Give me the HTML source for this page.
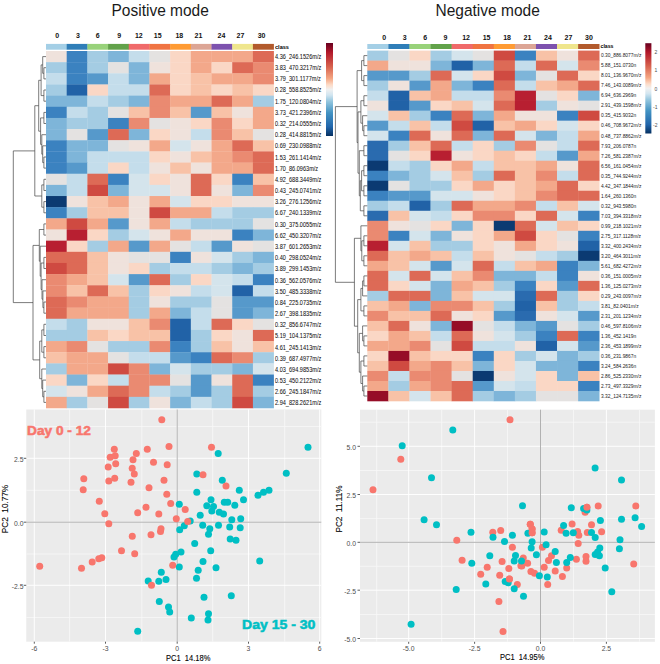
<!DOCTYPE html>
<html><head><meta charset="utf-8">
<style>
html,body{margin:0;padding:0;background:#fff;}
body{width:660px;height:664px;position:relative;overflow:hidden;font-family:"Liberation Sans",sans-serif;}
svg{position:absolute;left:0;top:0;}
.t{position:absolute;white-space:nowrap;line-height:1;}
.title{position:absolute;font-size:15.5px;color:#1a1a1a;top:1.9px;transform:scaleY(1.1);transform-origin:0 0;white-space:nowrap;line-height:1;}
.rl{position:absolute;left:274.9px;font-size:6.9px;line-height:1;transform:translateY(-50%) scaleX(0.81);transform-origin:0 50%;white-space:nowrap;color:#111;-webkit-text-stroke:0.05px #111;}
.rr{position:absolute;left:600.8px;font-size:5.8px;line-height:1;transform:translateY(-50%) scaleX(0.84);transform-origin:0 50%;white-space:nowrap;color:#222;}
.cl,.cr{position:absolute;font-size:7px;font-weight:bold;line-height:1;transform:translate(-50%,-50%);top:35.2px;color:#111;}
.cr{top:36.5px;}
.tick{position:absolute;font-size:6.8px;color:#4D4D4D;line-height:1;white-space:nowrap;}
.ax{position:absolute;font-size:8.2px;color:#000;-webkit-text-stroke:0.1px #000;line-height:1;white-space:nowrap;}
.day{position:absolute;font-weight:bold;font-size:12px;line-height:1;white-space:nowrap;transform-origin:0 0;-webkit-text-stroke:0.5px currentColor;}
</style></head><body>
<svg width="660" height="664" viewBox="0 0 660 664">
<defs>
<linearGradient id="cb" x1="0" y1="0" x2="0" y2="1">
<stop offset="0" stop-color="#67001F"/>
<stop offset="0.1" stop-color="#B2182B"/>
<stop offset="0.25" stop-color="#D6604D"/>
<stop offset="0.38" stop-color="#F4A582"/>
<stop offset="0.45" stop-color="#FDDBC7"/>
<stop offset="0.5" stop-color="#F0F0F0"/>
<stop offset="0.56" stop-color="#D1E5F0"/>
<stop offset="0.63" stop-color="#92C5DE"/>
<stop offset="0.75" stop-color="#4393C3"/>
<stop offset="0.9" stop-color="#2166AC"/>
<stop offset="1" stop-color="#053061"/>
</linearGradient>
</defs>
<rect x="46.00" y="43.9" width="20.99" height="5.800000000000004" fill="#A4CFE6"/>
<rect x="66.69" y="43.9" width="20.99" height="5.800000000000004" fill="#2F7EB8"/>
<rect x="87.38" y="43.9" width="20.99" height="5.800000000000004" fill="#98D27A"/>
<rect x="108.07" y="43.9" width="20.99" height="5.800000000000004" fill="#62A24A"/>
<rect x="128.76" y="43.9" width="20.99" height="5.800000000000004" fill="#F06A6A"/>
<rect x="149.45" y="43.9" width="20.99" height="5.800000000000004" fill="#F07442"/>
<rect x="170.15" y="43.9" width="20.99" height="5.800000000000004" fill="#FF9B33"/>
<rect x="190.84" y="43.9" width="20.99" height="5.800000000000004" fill="#DCA595"/>
<rect x="211.53" y="43.9" width="20.99" height="5.800000000000004" fill="#7D52AE"/>
<rect x="232.22" y="43.9" width="20.99" height="5.800000000000004" fill="#EFE68D"/>
<rect x="252.91" y="43.9" width="20.99" height="5.800000000000004" fill="#B25A2C"/>
<rect x="46.00" y="51.00" width="20.99" height="11.46" fill="#EFE2DC"/>
<rect x="66.69" y="51.00" width="20.99" height="11.46" fill="#3B82C0"/>
<rect x="87.38" y="51.00" width="20.99" height="11.46" fill="#A4CCE3"/>
<rect x="108.07" y="51.00" width="20.99" height="11.46" fill="#7EB5D9"/>
<rect x="128.76" y="51.00" width="20.99" height="11.46" fill="#C4DDEB"/>
<rect x="149.45" y="51.00" width="20.99" height="11.46" fill="#E4E2E1"/>
<rect x="170.15" y="51.00" width="20.99" height="11.46" fill="#FAD7C5"/>
<rect x="190.84" y="51.00" width="20.99" height="11.46" fill="#F3A88A"/>
<rect x="211.53" y="51.00" width="20.99" height="11.46" fill="#F3A88A"/>
<rect x="232.22" y="51.00" width="20.99" height="11.46" fill="#F3A88A"/>
<rect x="252.91" y="51.00" width="20.99" height="11.46" fill="#DD6A56"/>
<rect x="46.00" y="62.16" width="20.99" height="11.46" fill="#A4CCE3"/>
<rect x="66.69" y="62.16" width="20.99" height="11.46" fill="#3B82C0"/>
<rect x="87.38" y="62.16" width="20.99" height="11.46" fill="#A4CCE3"/>
<rect x="108.07" y="62.16" width="20.99" height="11.46" fill="#E4E2E1"/>
<rect x="128.76" y="62.16" width="20.99" height="11.46" fill="#7EB5D9"/>
<rect x="149.45" y="62.16" width="20.99" height="11.46" fill="#EFE2DC"/>
<rect x="170.15" y="62.16" width="20.99" height="11.46" fill="#FAD7C5"/>
<rect x="190.84" y="62.16" width="20.99" height="11.46" fill="#F3A88A"/>
<rect x="211.53" y="62.16" width="20.99" height="11.46" fill="#FAD7C5"/>
<rect x="232.22" y="62.16" width="20.99" height="11.46" fill="#DD6A56"/>
<rect x="252.91" y="62.16" width="20.99" height="11.46" fill="#EA8A71"/>
<rect x="46.00" y="73.31" width="20.99" height="11.46" fill="#C4DDEB"/>
<rect x="66.69" y="73.31" width="20.99" height="11.46" fill="#3B82C0"/>
<rect x="87.38" y="73.31" width="20.99" height="11.46" fill="#5699CB"/>
<rect x="108.07" y="73.31" width="20.99" height="11.46" fill="#C4DDEB"/>
<rect x="128.76" y="73.31" width="20.99" height="11.46" fill="#7EB5D9"/>
<rect x="149.45" y="73.31" width="20.99" height="11.46" fill="#F3A88A"/>
<rect x="170.15" y="73.31" width="20.99" height="11.46" fill="#FAD7C5"/>
<rect x="190.84" y="73.31" width="20.99" height="11.46" fill="#F8C2A7"/>
<rect x="211.53" y="73.31" width="20.99" height="11.46" fill="#F3A88A"/>
<rect x="232.22" y="73.31" width="20.99" height="11.46" fill="#F3A88A"/>
<rect x="252.91" y="73.31" width="20.99" height="11.46" fill="#EA8A71"/>
<rect x="46.00" y="84.47" width="20.99" height="11.46" fill="#A4CCE3"/>
<rect x="66.69" y="84.47" width="20.99" height="11.46" fill="#2162A7"/>
<rect x="87.38" y="84.47" width="20.99" height="11.46" fill="#FAD7C5"/>
<rect x="108.07" y="84.47" width="20.99" height="11.46" fill="#C4DDEB"/>
<rect x="128.76" y="84.47" width="20.99" height="11.46" fill="#C4DDEB"/>
<rect x="149.45" y="84.47" width="20.99" height="11.46" fill="#DD6A56"/>
<rect x="170.15" y="84.47" width="20.99" height="11.46" fill="#FAD7C5"/>
<rect x="190.84" y="84.47" width="20.99" height="11.46" fill="#F8C2A7"/>
<rect x="211.53" y="84.47" width="20.99" height="11.46" fill="#FAD7C5"/>
<rect x="232.22" y="84.47" width="20.99" height="11.46" fill="#F8C2A7"/>
<rect x="252.91" y="84.47" width="20.99" height="11.46" fill="#FAD7C5"/>
<rect x="46.00" y="95.62" width="20.99" height="11.46" fill="#7EB5D9"/>
<rect x="66.69" y="95.62" width="20.99" height="11.46" fill="#7EB5D9"/>
<rect x="87.38" y="95.62" width="20.99" height="11.46" fill="#C4DDEB"/>
<rect x="108.07" y="95.62" width="20.99" height="11.46" fill="#A4CCE3"/>
<rect x="128.76" y="95.62" width="20.99" height="11.46" fill="#7EB5D9"/>
<rect x="149.45" y="95.62" width="20.99" height="11.46" fill="#EA8A71"/>
<rect x="170.15" y="95.62" width="20.99" height="11.46" fill="#F3A88A"/>
<rect x="190.84" y="95.62" width="20.99" height="11.46" fill="#F3A88A"/>
<rect x="211.53" y="95.62" width="20.99" height="11.46" fill="#DD6A56"/>
<rect x="232.22" y="95.62" width="20.99" height="11.46" fill="#F3A88A"/>
<rect x="252.91" y="95.62" width="20.99" height="11.46" fill="#A4CCE3"/>
<rect x="46.00" y="106.78" width="20.99" height="11.46" fill="#3B82C0"/>
<rect x="66.69" y="106.78" width="20.99" height="11.46" fill="#C4DDEB"/>
<rect x="87.38" y="106.78" width="20.99" height="11.46" fill="#A4CCE3"/>
<rect x="108.07" y="106.78" width="20.99" height="11.46" fill="#E4E2E1"/>
<rect x="128.76" y="106.78" width="20.99" height="11.46" fill="#F8C2A7"/>
<rect x="149.45" y="106.78" width="20.99" height="11.46" fill="#EA8A71"/>
<rect x="170.15" y="106.78" width="20.99" height="11.46" fill="#F8C2A7"/>
<rect x="190.84" y="106.78" width="20.99" height="11.46" fill="#5699CB"/>
<rect x="211.53" y="106.78" width="20.99" height="11.46" fill="#F8C2A7"/>
<rect x="232.22" y="106.78" width="20.99" height="11.46" fill="#EFE2DC"/>
<rect x="252.91" y="106.78" width="20.99" height="11.46" fill="#F3A88A"/>
<rect x="46.00" y="117.94" width="20.99" height="11.46" fill="#7EB5D9"/>
<rect x="66.69" y="117.94" width="20.99" height="11.46" fill="#A4CCE3"/>
<rect x="87.38" y="117.94" width="20.99" height="11.46" fill="#A4CCE3"/>
<rect x="108.07" y="117.94" width="20.99" height="11.46" fill="#3B82C0"/>
<rect x="128.76" y="117.94" width="20.99" height="11.46" fill="#EA8A71"/>
<rect x="149.45" y="117.94" width="20.99" height="11.46" fill="#E4E2E1"/>
<rect x="170.15" y="117.94" width="20.99" height="11.46" fill="#EFE2DC"/>
<rect x="190.84" y="117.94" width="20.99" height="11.46" fill="#FAD7C5"/>
<rect x="211.53" y="117.94" width="20.99" height="11.46" fill="#EA8A71"/>
<rect x="232.22" y="117.94" width="20.99" height="11.46" fill="#FAD7C5"/>
<rect x="252.91" y="117.94" width="20.99" height="11.46" fill="#F3A88A"/>
<rect x="46.00" y="129.09" width="20.99" height="11.46" fill="#7EB5D9"/>
<rect x="66.69" y="129.09" width="20.99" height="11.46" fill="#E4E2E1"/>
<rect x="87.38" y="129.09" width="20.99" height="11.46" fill="#5699CB"/>
<rect x="108.07" y="129.09" width="20.99" height="11.46" fill="#DD6A56"/>
<rect x="128.76" y="129.09" width="20.99" height="11.46" fill="#7EB5D9"/>
<rect x="149.45" y="129.09" width="20.99" height="11.46" fill="#FAD7C5"/>
<rect x="170.15" y="129.09" width="20.99" height="11.46" fill="#EFE2DC"/>
<rect x="190.84" y="129.09" width="20.99" height="11.46" fill="#C4DDEB"/>
<rect x="211.53" y="129.09" width="20.99" height="11.46" fill="#EA8A71"/>
<rect x="232.22" y="129.09" width="20.99" height="11.46" fill="#F8C2A7"/>
<rect x="252.91" y="129.09" width="20.99" height="11.46" fill="#E4E2E1"/>
<rect x="46.00" y="140.25" width="20.99" height="11.46" fill="#3B82C0"/>
<rect x="66.69" y="140.25" width="20.99" height="11.46" fill="#7EB5D9"/>
<rect x="87.38" y="140.25" width="20.99" height="11.46" fill="#7EB5D9"/>
<rect x="108.07" y="140.25" width="20.99" height="11.46" fill="#E4E2E1"/>
<rect x="128.76" y="140.25" width="20.99" height="11.46" fill="#EFE2DC"/>
<rect x="149.45" y="140.25" width="20.99" height="11.46" fill="#F3A88A"/>
<rect x="170.15" y="140.25" width="20.99" height="11.46" fill="#D4E4EC"/>
<rect x="190.84" y="140.25" width="20.99" height="11.46" fill="#EFE2DC"/>
<rect x="211.53" y="140.25" width="20.99" height="11.46" fill="#F3A88A"/>
<rect x="232.22" y="140.25" width="20.99" height="11.46" fill="#DD6A56"/>
<rect x="252.91" y="140.25" width="20.99" height="11.46" fill="#F8C2A7"/>
<rect x="46.00" y="151.41" width="20.99" height="11.46" fill="#3B82C0"/>
<rect x="66.69" y="151.41" width="20.99" height="11.46" fill="#7EB5D9"/>
<rect x="87.38" y="151.41" width="20.99" height="11.46" fill="#C4DDEB"/>
<rect x="108.07" y="151.41" width="20.99" height="11.46" fill="#C4DDEB"/>
<rect x="128.76" y="151.41" width="20.99" height="11.46" fill="#C4DDEB"/>
<rect x="149.45" y="151.41" width="20.99" height="11.46" fill="#FAD7C5"/>
<rect x="170.15" y="151.41" width="20.99" height="11.46" fill="#EFE2DC"/>
<rect x="190.84" y="151.41" width="20.99" height="11.46" fill="#F8C2A7"/>
<rect x="211.53" y="151.41" width="20.99" height="11.46" fill="#F3A88A"/>
<rect x="232.22" y="151.41" width="20.99" height="11.46" fill="#EA8A71"/>
<rect x="252.91" y="151.41" width="20.99" height="11.46" fill="#DD6A56"/>
<rect x="46.00" y="162.56" width="20.99" height="11.46" fill="#3B82C0"/>
<rect x="66.69" y="162.56" width="20.99" height="11.46" fill="#5699CB"/>
<rect x="87.38" y="162.56" width="20.99" height="11.46" fill="#C4DDEB"/>
<rect x="108.07" y="162.56" width="20.99" height="11.46" fill="#FAD7C5"/>
<rect x="128.76" y="162.56" width="20.99" height="11.46" fill="#C4DDEB"/>
<rect x="149.45" y="162.56" width="20.99" height="11.46" fill="#EFE2DC"/>
<rect x="170.15" y="162.56" width="20.99" height="11.46" fill="#F8C2A7"/>
<rect x="190.84" y="162.56" width="20.99" height="11.46" fill="#EFE2DC"/>
<rect x="211.53" y="162.56" width="20.99" height="11.46" fill="#F3A88A"/>
<rect x="232.22" y="162.56" width="20.99" height="11.46" fill="#F3A88A"/>
<rect x="252.91" y="162.56" width="20.99" height="11.46" fill="#DD6A56"/>
<rect x="46.00" y="173.72" width="20.99" height="11.46" fill="#E4E2E1"/>
<rect x="66.69" y="173.72" width="20.99" height="11.46" fill="#C4DDEB"/>
<rect x="87.38" y="173.72" width="20.99" height="11.46" fill="#DD6A56"/>
<rect x="108.07" y="173.72" width="20.99" height="11.46" fill="#3B82C0"/>
<rect x="128.76" y="173.72" width="20.99" height="11.46" fill="#D4E4EC"/>
<rect x="149.45" y="173.72" width="20.99" height="11.46" fill="#FAD7C5"/>
<rect x="170.15" y="173.72" width="20.99" height="11.46" fill="#EFE2DC"/>
<rect x="190.84" y="173.72" width="20.99" height="11.46" fill="#DD6A56"/>
<rect x="211.53" y="173.72" width="20.99" height="11.46" fill="#FAD7C5"/>
<rect x="232.22" y="173.72" width="20.99" height="11.46" fill="#3B82C0"/>
<rect x="252.91" y="173.72" width="20.99" height="11.46" fill="#F8C2A7"/>
<rect x="46.00" y="184.88" width="20.99" height="11.46" fill="#7EB5D9"/>
<rect x="66.69" y="184.88" width="20.99" height="11.46" fill="#C4DDEB"/>
<rect x="87.38" y="184.88" width="20.99" height="11.46" fill="#CF4A41"/>
<rect x="108.07" y="184.88" width="20.99" height="11.46" fill="#7EB5D9"/>
<rect x="128.76" y="184.88" width="20.99" height="11.46" fill="#D4E4EC"/>
<rect x="149.45" y="184.88" width="20.99" height="11.46" fill="#D4E4EC"/>
<rect x="170.15" y="184.88" width="20.99" height="11.46" fill="#EFE2DC"/>
<rect x="190.84" y="184.88" width="20.99" height="11.46" fill="#DD6A56"/>
<rect x="211.53" y="184.88" width="20.99" height="11.46" fill="#EFE2DC"/>
<rect x="232.22" y="184.88" width="20.99" height="11.46" fill="#7EB5D9"/>
<rect x="252.91" y="184.88" width="20.99" height="11.46" fill="#EA8A71"/>
<rect x="46.00" y="196.03" width="20.99" height="11.46" fill="#0B3A72"/>
<rect x="66.69" y="196.03" width="20.99" height="11.46" fill="#EFE2DC"/>
<rect x="87.38" y="196.03" width="20.99" height="11.46" fill="#F8C2A7"/>
<rect x="108.07" y="196.03" width="20.99" height="11.46" fill="#F3A88A"/>
<rect x="128.76" y="196.03" width="20.99" height="11.46" fill="#EFE2DC"/>
<rect x="149.45" y="196.03" width="20.99" height="11.46" fill="#F3A88A"/>
<rect x="170.15" y="196.03" width="20.99" height="11.46" fill="#D4E4EC"/>
<rect x="190.84" y="196.03" width="20.99" height="11.46" fill="#FAD7C5"/>
<rect x="211.53" y="196.03" width="20.99" height="11.46" fill="#FAD7C5"/>
<rect x="232.22" y="196.03" width="20.99" height="11.46" fill="#EFE2DC"/>
<rect x="252.91" y="196.03" width="20.99" height="11.46" fill="#EFE2DC"/>
<rect x="46.00" y="207.19" width="20.99" height="11.46" fill="#3B82C0"/>
<rect x="66.69" y="207.19" width="20.99" height="11.46" fill="#A4CCE3"/>
<rect x="87.38" y="207.19" width="20.99" height="11.46" fill="#F8C2A7"/>
<rect x="108.07" y="207.19" width="20.99" height="11.46" fill="#F8C2A7"/>
<rect x="128.76" y="207.19" width="20.99" height="11.46" fill="#EFE2DC"/>
<rect x="149.45" y="207.19" width="20.99" height="11.46" fill="#CF4A41"/>
<rect x="170.15" y="207.19" width="20.99" height="11.46" fill="#F3A88A"/>
<rect x="190.84" y="207.19" width="20.99" height="11.46" fill="#F3A88A"/>
<rect x="211.53" y="207.19" width="20.99" height="11.46" fill="#C4DDEB"/>
<rect x="232.22" y="207.19" width="20.99" height="11.46" fill="#A4CCE3"/>
<rect x="252.91" y="207.19" width="20.99" height="11.46" fill="#A4CCE3"/>
<rect x="46.00" y="218.34" width="20.99" height="11.46" fill="#F3A88A"/>
<rect x="66.69" y="218.34" width="20.99" height="11.46" fill="#CF4A41"/>
<rect x="87.38" y="218.34" width="20.99" height="11.46" fill="#F3A88A"/>
<rect x="108.07" y="218.34" width="20.99" height="11.46" fill="#5699CB"/>
<rect x="128.76" y="218.34" width="20.99" height="11.46" fill="#EFE2DC"/>
<rect x="149.45" y="218.34" width="20.99" height="11.46" fill="#F3A88A"/>
<rect x="170.15" y="218.34" width="20.99" height="11.46" fill="#C4DDEB"/>
<rect x="190.84" y="218.34" width="20.99" height="11.46" fill="#A4CCE3"/>
<rect x="211.53" y="218.34" width="20.99" height="11.46" fill="#A4CCE3"/>
<rect x="232.22" y="218.34" width="20.99" height="11.46" fill="#A4CCE3"/>
<rect x="252.91" y="218.34" width="20.99" height="11.46" fill="#E4E2E1"/>
<rect x="46.00" y="229.50" width="20.99" height="11.46" fill="#EFE2DC"/>
<rect x="66.69" y="229.50" width="20.99" height="11.46" fill="#B81F31"/>
<rect x="87.38" y="229.50" width="20.99" height="11.46" fill="#FAD7C5"/>
<rect x="108.07" y="229.50" width="20.99" height="11.46" fill="#A4CCE3"/>
<rect x="128.76" y="229.50" width="20.99" height="11.46" fill="#D4E4EC"/>
<rect x="149.45" y="229.50" width="20.99" height="11.46" fill="#EFE2DC"/>
<rect x="170.15" y="229.50" width="20.99" height="11.46" fill="#F3A88A"/>
<rect x="190.84" y="229.50" width="20.99" height="11.46" fill="#EFE2DC"/>
<rect x="211.53" y="229.50" width="20.99" height="11.46" fill="#EFE2DC"/>
<rect x="232.22" y="229.50" width="20.99" height="11.46" fill="#3B82C0"/>
<rect x="252.91" y="229.50" width="20.99" height="11.46" fill="#7EB5D9"/>
<rect x="46.00" y="240.66" width="20.99" height="11.46" fill="#B81F31"/>
<rect x="66.69" y="240.66" width="20.99" height="11.46" fill="#FAD7C5"/>
<rect x="87.38" y="240.66" width="20.99" height="11.46" fill="#A4CCE3"/>
<rect x="108.07" y="240.66" width="20.99" height="11.46" fill="#F3A88A"/>
<rect x="128.76" y="240.66" width="20.99" height="11.46" fill="#5699CB"/>
<rect x="149.45" y="240.66" width="20.99" height="11.46" fill="#F3A88A"/>
<rect x="170.15" y="240.66" width="20.99" height="11.46" fill="#E4E2E1"/>
<rect x="190.84" y="240.66" width="20.99" height="11.46" fill="#C4DDEB"/>
<rect x="211.53" y="240.66" width="20.99" height="11.46" fill="#5699CB"/>
<rect x="232.22" y="240.66" width="20.99" height="11.46" fill="#EFE2DC"/>
<rect x="252.91" y="240.66" width="20.99" height="11.46" fill="#E4E2E1"/>
<rect x="46.00" y="251.81" width="20.99" height="11.46" fill="#DD6A56"/>
<rect x="66.69" y="251.81" width="20.99" height="11.46" fill="#DD6A56"/>
<rect x="87.38" y="251.81" width="20.99" height="11.46" fill="#F8C2A7"/>
<rect x="108.07" y="251.81" width="20.99" height="11.46" fill="#EFE2DC"/>
<rect x="128.76" y="251.81" width="20.99" height="11.46" fill="#E4E2E1"/>
<rect x="149.45" y="251.81" width="20.99" height="11.46" fill="#E4E2E1"/>
<rect x="170.15" y="251.81" width="20.99" height="11.46" fill="#3B82C0"/>
<rect x="190.84" y="251.81" width="20.99" height="11.46" fill="#EFE2DC"/>
<rect x="211.53" y="251.81" width="20.99" height="11.46" fill="#D4E4EC"/>
<rect x="232.22" y="251.81" width="20.99" height="11.46" fill="#A4CCE3"/>
<rect x="252.91" y="251.81" width="20.99" height="11.46" fill="#7EB5D9"/>
<rect x="46.00" y="262.97" width="20.99" height="11.46" fill="#CF4A41"/>
<rect x="66.69" y="262.97" width="20.99" height="11.46" fill="#DD6A56"/>
<rect x="87.38" y="262.97" width="20.99" height="11.46" fill="#F8C2A7"/>
<rect x="108.07" y="262.97" width="20.99" height="11.46" fill="#EFE2DC"/>
<rect x="128.76" y="262.97" width="20.99" height="11.46" fill="#FAD7C5"/>
<rect x="149.45" y="262.97" width="20.99" height="11.46" fill="#A4CCE3"/>
<rect x="170.15" y="262.97" width="20.99" height="11.46" fill="#C4DDEB"/>
<rect x="190.84" y="262.97" width="20.99" height="11.46" fill="#C4DDEB"/>
<rect x="211.53" y="262.97" width="20.99" height="11.46" fill="#A4CCE3"/>
<rect x="232.22" y="262.97" width="20.99" height="11.46" fill="#7EB5D9"/>
<rect x="252.91" y="262.97" width="20.99" height="11.46" fill="#A4CCE3"/>
<rect x="46.00" y="274.12" width="20.99" height="11.46" fill="#EA8A71"/>
<rect x="66.69" y="274.12" width="20.99" height="11.46" fill="#F3A88A"/>
<rect x="87.38" y="274.12" width="20.99" height="11.46" fill="#F8C2A7"/>
<rect x="108.07" y="274.12" width="20.99" height="11.46" fill="#D4E4EC"/>
<rect x="128.76" y="274.12" width="20.99" height="11.46" fill="#5699CB"/>
<rect x="149.45" y="274.12" width="20.99" height="11.46" fill="#DD6A56"/>
<rect x="170.15" y="274.12" width="20.99" height="11.46" fill="#A4CCE3"/>
<rect x="190.84" y="274.12" width="20.99" height="11.46" fill="#FAD7C5"/>
<rect x="211.53" y="274.12" width="20.99" height="11.46" fill="#D4E4EC"/>
<rect x="232.22" y="274.12" width="20.99" height="11.46" fill="#C4DDEB"/>
<rect x="252.91" y="274.12" width="20.99" height="11.46" fill="#3B82C0"/>
<rect x="46.00" y="285.28" width="20.99" height="11.46" fill="#EA8A71"/>
<rect x="66.69" y="285.28" width="20.99" height="11.46" fill="#F8C2A7"/>
<rect x="87.38" y="285.28" width="20.99" height="11.46" fill="#DD6A56"/>
<rect x="108.07" y="285.28" width="20.99" height="11.46" fill="#F8C2A7"/>
<rect x="128.76" y="285.28" width="20.99" height="11.46" fill="#A4CCE3"/>
<rect x="149.45" y="285.28" width="20.99" height="11.46" fill="#FAD7C5"/>
<rect x="170.15" y="285.28" width="20.99" height="11.46" fill="#EFE2DC"/>
<rect x="190.84" y="285.28" width="20.99" height="11.46" fill="#C4DDEB"/>
<rect x="211.53" y="285.28" width="20.99" height="11.46" fill="#D4E4EC"/>
<rect x="232.22" y="285.28" width="20.99" height="11.46" fill="#2162A7"/>
<rect x="252.91" y="285.28" width="20.99" height="11.46" fill="#C4DDEB"/>
<rect x="46.00" y="296.44" width="20.99" height="11.46" fill="#DD6A56"/>
<rect x="66.69" y="296.44" width="20.99" height="11.46" fill="#EA8A71"/>
<rect x="87.38" y="296.44" width="20.99" height="11.46" fill="#F3A88A"/>
<rect x="108.07" y="296.44" width="20.99" height="11.46" fill="#F3A88A"/>
<rect x="128.76" y="296.44" width="20.99" height="11.46" fill="#A4CCE3"/>
<rect x="149.45" y="296.44" width="20.99" height="11.46" fill="#EFE2DC"/>
<rect x="170.15" y="296.44" width="20.99" height="11.46" fill="#A4CCE3"/>
<rect x="190.84" y="296.44" width="20.99" height="11.46" fill="#A4CCE3"/>
<rect x="211.53" y="296.44" width="20.99" height="11.46" fill="#E4E2E1"/>
<rect x="232.22" y="296.44" width="20.99" height="11.46" fill="#5699CB"/>
<rect x="252.91" y="296.44" width="20.99" height="11.46" fill="#5699CB"/>
<rect x="46.00" y="307.59" width="20.99" height="11.46" fill="#DD6A56"/>
<rect x="66.69" y="307.59" width="20.99" height="11.46" fill="#F3A88A"/>
<rect x="87.38" y="307.59" width="20.99" height="11.46" fill="#F3A88A"/>
<rect x="108.07" y="307.59" width="20.99" height="11.46" fill="#F3A88A"/>
<rect x="128.76" y="307.59" width="20.99" height="11.46" fill="#A4CCE3"/>
<rect x="149.45" y="307.59" width="20.99" height="11.46" fill="#F3A88A"/>
<rect x="170.15" y="307.59" width="20.99" height="11.46" fill="#7EB5D9"/>
<rect x="190.84" y="307.59" width="20.99" height="11.46" fill="#C4DDEB"/>
<rect x="211.53" y="307.59" width="20.99" height="11.46" fill="#E4E2E1"/>
<rect x="232.22" y="307.59" width="20.99" height="11.46" fill="#5699CB"/>
<rect x="252.91" y="307.59" width="20.99" height="11.46" fill="#7EB5D9"/>
<rect x="46.00" y="318.75" width="20.99" height="11.46" fill="#C4DDEB"/>
<rect x="66.69" y="318.75" width="20.99" height="11.46" fill="#A4CCE3"/>
<rect x="87.38" y="318.75" width="20.99" height="11.46" fill="#EFE2DC"/>
<rect x="108.07" y="318.75" width="20.99" height="11.46" fill="#EFE2DC"/>
<rect x="128.76" y="318.75" width="20.99" height="11.46" fill="#F8C2A7"/>
<rect x="149.45" y="318.75" width="20.99" height="11.46" fill="#EA8A71"/>
<rect x="170.15" y="318.75" width="20.99" height="11.46" fill="#2162A7"/>
<rect x="190.84" y="318.75" width="20.99" height="11.46" fill="#C4DDEB"/>
<rect x="211.53" y="318.75" width="20.99" height="11.46" fill="#DD6A56"/>
<rect x="232.22" y="318.75" width="20.99" height="11.46" fill="#FAD7C5"/>
<rect x="252.91" y="318.75" width="20.99" height="11.46" fill="#E4E2E1"/>
<rect x="46.00" y="329.91" width="20.99" height="11.46" fill="#A4CCE3"/>
<rect x="66.69" y="329.91" width="20.99" height="11.46" fill="#A4CCE3"/>
<rect x="87.38" y="329.91" width="20.99" height="11.46" fill="#F8C2A7"/>
<rect x="108.07" y="329.91" width="20.99" height="11.46" fill="#FAD7C5"/>
<rect x="128.76" y="329.91" width="20.99" height="11.46" fill="#F8C2A7"/>
<rect x="149.45" y="329.91" width="20.99" height="11.46" fill="#F8C2A7"/>
<rect x="170.15" y="329.91" width="20.99" height="11.46" fill="#2162A7"/>
<rect x="190.84" y="329.91" width="20.99" height="11.46" fill="#A4CCE3"/>
<rect x="211.53" y="329.91" width="20.99" height="11.46" fill="#FAD7C5"/>
<rect x="232.22" y="329.91" width="20.99" height="11.46" fill="#EFE2DC"/>
<rect x="252.91" y="329.91" width="20.99" height="11.46" fill="#DD6A56"/>
<rect x="46.00" y="341.06" width="20.99" height="11.46" fill="#F3A88A"/>
<rect x="66.69" y="341.06" width="20.99" height="11.46" fill="#EA8A71"/>
<rect x="87.38" y="341.06" width="20.99" height="11.46" fill="#E4E2E1"/>
<rect x="108.07" y="341.06" width="20.99" height="11.46" fill="#A4CCE3"/>
<rect x="128.76" y="341.06" width="20.99" height="11.46" fill="#A4CCE3"/>
<rect x="149.45" y="341.06" width="20.99" height="11.46" fill="#EA8A71"/>
<rect x="170.15" y="341.06" width="20.99" height="11.46" fill="#3B82C0"/>
<rect x="190.84" y="341.06" width="20.99" height="11.46" fill="#A4CCE3"/>
<rect x="211.53" y="341.06" width="20.99" height="11.46" fill="#F8C2A7"/>
<rect x="232.22" y="341.06" width="20.99" height="11.46" fill="#EFE2DC"/>
<rect x="252.91" y="341.06" width="20.99" height="11.46" fill="#F8C2A7"/>
<rect x="46.00" y="352.22" width="20.99" height="11.46" fill="#F8C2A7"/>
<rect x="66.69" y="352.22" width="20.99" height="11.46" fill="#F3A88A"/>
<rect x="87.38" y="352.22" width="20.99" height="11.46" fill="#F3A88A"/>
<rect x="108.07" y="352.22" width="20.99" height="11.46" fill="#E4E2E1"/>
<rect x="128.76" y="352.22" width="20.99" height="11.46" fill="#C4DDEB"/>
<rect x="149.45" y="352.22" width="20.99" height="11.46" fill="#C4DDEB"/>
<rect x="170.15" y="352.22" width="20.99" height="11.46" fill="#5699CB"/>
<rect x="190.84" y="352.22" width="20.99" height="11.46" fill="#3B82C0"/>
<rect x="211.53" y="352.22" width="20.99" height="11.46" fill="#DD6A56"/>
<rect x="232.22" y="352.22" width="20.99" height="11.46" fill="#EA8A71"/>
<rect x="252.91" y="352.22" width="20.99" height="11.46" fill="#A4CCE3"/>
<rect x="46.00" y="363.38" width="20.99" height="11.46" fill="#A4CCE3"/>
<rect x="66.69" y="363.38" width="20.99" height="11.46" fill="#F3A88A"/>
<rect x="87.38" y="363.38" width="20.99" height="11.46" fill="#F3A88A"/>
<rect x="108.07" y="363.38" width="20.99" height="11.46" fill="#CF4A41"/>
<rect x="128.76" y="363.38" width="20.99" height="11.46" fill="#EA8A71"/>
<rect x="149.45" y="363.38" width="20.99" height="11.46" fill="#7EB5D9"/>
<rect x="170.15" y="363.38" width="20.99" height="11.46" fill="#D4E4EC"/>
<rect x="190.84" y="363.38" width="20.99" height="11.46" fill="#A4CCE3"/>
<rect x="211.53" y="363.38" width="20.99" height="11.46" fill="#A4CCE3"/>
<rect x="232.22" y="363.38" width="20.99" height="11.46" fill="#7EB5D9"/>
<rect x="252.91" y="363.38" width="20.99" height="11.46" fill="#D4E4EC"/>
<rect x="46.00" y="374.53" width="20.99" height="11.46" fill="#FAD7C5"/>
<rect x="66.69" y="374.53" width="20.99" height="11.46" fill="#7EB5D9"/>
<rect x="87.38" y="374.53" width="20.99" height="11.46" fill="#FAD7C5"/>
<rect x="108.07" y="374.53" width="20.99" height="11.46" fill="#C4DDEB"/>
<rect x="128.76" y="374.53" width="20.99" height="11.46" fill="#EA8A71"/>
<rect x="149.45" y="374.53" width="20.99" height="11.46" fill="#EA8A71"/>
<rect x="170.15" y="374.53" width="20.99" height="11.46" fill="#E4E2E1"/>
<rect x="190.84" y="374.53" width="20.99" height="11.46" fill="#5699CB"/>
<rect x="211.53" y="374.53" width="20.99" height="11.46" fill="#EFE2DC"/>
<rect x="232.22" y="374.53" width="20.99" height="11.46" fill="#DD6A56"/>
<rect x="252.91" y="374.53" width="20.99" height="11.46" fill="#3B82C0"/>
<rect x="46.00" y="385.69" width="20.99" height="11.46" fill="#D4E4EC"/>
<rect x="66.69" y="385.69" width="20.99" height="11.46" fill="#EFE2DC"/>
<rect x="87.38" y="385.69" width="20.99" height="11.46" fill="#F3A88A"/>
<rect x="108.07" y="385.69" width="20.99" height="11.46" fill="#DD6A56"/>
<rect x="128.76" y="385.69" width="20.99" height="11.46" fill="#EA8A71"/>
<rect x="149.45" y="385.69" width="20.99" height="11.46" fill="#C4DDEB"/>
<rect x="170.15" y="385.69" width="20.99" height="11.46" fill="#A4CCE3"/>
<rect x="190.84" y="385.69" width="20.99" height="11.46" fill="#5699CB"/>
<rect x="211.53" y="385.69" width="20.99" height="11.46" fill="#A4CCE3"/>
<rect x="232.22" y="385.69" width="20.99" height="11.46" fill="#DD6A56"/>
<rect x="252.91" y="385.69" width="20.99" height="11.46" fill="#A4CCE3"/>
<rect x="46.00" y="396.84" width="20.99" height="11.46" fill="#F3A88A"/>
<rect x="66.69" y="396.84" width="20.99" height="11.46" fill="#A4CCE3"/>
<rect x="87.38" y="396.84" width="20.99" height="11.46" fill="#E4E2E1"/>
<rect x="108.07" y="396.84" width="20.99" height="11.46" fill="#CF4A41"/>
<rect x="128.76" y="396.84" width="20.99" height="11.46" fill="#A4CCE3"/>
<rect x="149.45" y="396.84" width="20.99" height="11.46" fill="#EFE2DC"/>
<rect x="170.15" y="396.84" width="20.99" height="11.46" fill="#7EB5D9"/>
<rect x="190.84" y="396.84" width="20.99" height="11.46" fill="#C4DDEB"/>
<rect x="211.53" y="396.84" width="20.99" height="11.46" fill="#A4CCE3"/>
<rect x="232.22" y="396.84" width="20.99" height="11.46" fill="#CF4A41"/>
<rect x="252.91" y="396.84" width="20.99" height="11.46" fill="#7EB5D9"/>
<rect x="367.30" y="44" width="21.38" height="5" fill="#A4CFE6"/>
<rect x="388.38" y="44" width="21.38" height="5" fill="#2F7EB8"/>
<rect x="409.46" y="44" width="21.38" height="5" fill="#98D27A"/>
<rect x="430.55" y="44" width="21.38" height="5" fill="#62A24A"/>
<rect x="451.63" y="44" width="21.38" height="5" fill="#F06A6A"/>
<rect x="472.71" y="44" width="21.38" height="5" fill="#F07442"/>
<rect x="493.79" y="44" width="21.38" height="5" fill="#FF9B33"/>
<rect x="514.87" y="44" width="21.38" height="5" fill="#DCA595"/>
<rect x="535.95" y="44" width="21.38" height="5" fill="#7D52AE"/>
<rect x="557.04" y="44" width="21.38" height="5" fill="#EFE68D"/>
<rect x="578.12" y="44" width="21.38" height="5" fill="#B25A2C"/>
<rect x="367.30" y="50.60" width="21.38" height="10.31" fill="#A4CCE3"/>
<rect x="388.38" y="50.60" width="21.38" height="10.31" fill="#E4E2E1"/>
<rect x="409.46" y="50.60" width="21.38" height="10.31" fill="#FAD7C5"/>
<rect x="430.55" y="50.60" width="21.38" height="10.31" fill="#A4CCE3"/>
<rect x="451.63" y="50.60" width="21.38" height="10.31" fill="#D4E4EC"/>
<rect x="472.71" y="50.60" width="21.38" height="10.31" fill="#E4E2E1"/>
<rect x="493.79" y="50.60" width="21.38" height="10.31" fill="#CF4A41"/>
<rect x="514.87" y="50.60" width="21.38" height="10.31" fill="#3B82C0"/>
<rect x="535.95" y="50.60" width="21.38" height="10.31" fill="#F8C2A7"/>
<rect x="557.04" y="50.60" width="21.38" height="10.31" fill="#EFE2DC"/>
<rect x="578.12" y="50.60" width="21.38" height="10.31" fill="#DD6A56"/>
<rect x="367.30" y="60.61" width="21.38" height="10.31" fill="#F3A88A"/>
<rect x="388.38" y="60.61" width="21.38" height="10.31" fill="#EFE2DC"/>
<rect x="409.46" y="60.61" width="21.38" height="10.31" fill="#EFE2DC"/>
<rect x="430.55" y="60.61" width="21.38" height="10.31" fill="#7EB5D9"/>
<rect x="451.63" y="60.61" width="21.38" height="10.31" fill="#2162A7"/>
<rect x="472.71" y="60.61" width="21.38" height="10.31" fill="#7EB5D9"/>
<rect x="493.79" y="60.61" width="21.38" height="10.31" fill="#DD6A56"/>
<rect x="514.87" y="60.61" width="21.38" height="10.31" fill="#C4DDEB"/>
<rect x="535.95" y="60.61" width="21.38" height="10.31" fill="#DD6A56"/>
<rect x="557.04" y="60.61" width="21.38" height="10.31" fill="#D4E4EC"/>
<rect x="578.12" y="60.61" width="21.38" height="10.31" fill="#EA8A71"/>
<rect x="367.30" y="70.62" width="21.38" height="10.31" fill="#5699CB"/>
<rect x="388.38" y="70.62" width="21.38" height="10.31" fill="#5699CB"/>
<rect x="409.46" y="70.62" width="21.38" height="10.31" fill="#A4CCE3"/>
<rect x="430.55" y="70.62" width="21.38" height="10.31" fill="#DD6A56"/>
<rect x="451.63" y="70.62" width="21.38" height="10.31" fill="#D4E4EC"/>
<rect x="472.71" y="70.62" width="21.38" height="10.31" fill="#FAD7C5"/>
<rect x="493.79" y="70.62" width="21.38" height="10.31" fill="#CF4A41"/>
<rect x="514.87" y="70.62" width="21.38" height="10.31" fill="#7EB5D9"/>
<rect x="535.95" y="70.62" width="21.38" height="10.31" fill="#E4E2E1"/>
<rect x="557.04" y="70.62" width="21.38" height="10.31" fill="#DD6A56"/>
<rect x="578.12" y="70.62" width="21.38" height="10.31" fill="#FAD7C5"/>
<rect x="367.30" y="80.63" width="21.38" height="10.31" fill="#A4CCE3"/>
<rect x="388.38" y="80.63" width="21.38" height="10.31" fill="#EFE2DC"/>
<rect x="409.46" y="80.63" width="21.38" height="10.31" fill="#5699CB"/>
<rect x="430.55" y="80.63" width="21.38" height="10.31" fill="#F3A88A"/>
<rect x="451.63" y="80.63" width="21.38" height="10.31" fill="#7EB5D9"/>
<rect x="472.71" y="80.63" width="21.38" height="10.31" fill="#3B82C0"/>
<rect x="493.79" y="80.63" width="21.38" height="10.31" fill="#DD6A56"/>
<rect x="514.87" y="80.63" width="21.38" height="10.31" fill="#C4DDEB"/>
<rect x="535.95" y="80.63" width="21.38" height="10.31" fill="#F8C2A7"/>
<rect x="557.04" y="80.63" width="21.38" height="10.31" fill="#F3A88A"/>
<rect x="578.12" y="80.63" width="21.38" height="10.31" fill="#DD6A56"/>
<rect x="367.30" y="90.65" width="21.38" height="10.31" fill="#C4DDEB"/>
<rect x="388.38" y="90.65" width="21.38" height="10.31" fill="#2162A7"/>
<rect x="409.46" y="90.65" width="21.38" height="10.31" fill="#F8C2A7"/>
<rect x="430.55" y="90.65" width="21.38" height="10.31" fill="#F3A88A"/>
<rect x="451.63" y="90.65" width="21.38" height="10.31" fill="#C4DDEB"/>
<rect x="472.71" y="90.65" width="21.38" height="10.31" fill="#C4DDEB"/>
<rect x="493.79" y="90.65" width="21.38" height="10.31" fill="#EA8A71"/>
<rect x="514.87" y="90.65" width="21.38" height="10.31" fill="#B81F31"/>
<rect x="535.95" y="90.65" width="21.38" height="10.31" fill="#E4E2E1"/>
<rect x="557.04" y="90.65" width="21.38" height="10.31" fill="#FAD7C5"/>
<rect x="578.12" y="90.65" width="21.38" height="10.31" fill="#7EB5D9"/>
<rect x="367.30" y="100.66" width="21.38" height="10.31" fill="#EFE2DC"/>
<rect x="388.38" y="100.66" width="21.38" height="10.31" fill="#2162A7"/>
<rect x="409.46" y="100.66" width="21.38" height="10.31" fill="#5699CB"/>
<rect x="430.55" y="100.66" width="21.38" height="10.31" fill="#FAD7C5"/>
<rect x="451.63" y="100.66" width="21.38" height="10.31" fill="#F8C2A7"/>
<rect x="472.71" y="100.66" width="21.38" height="10.31" fill="#D4E4EC"/>
<rect x="493.79" y="100.66" width="21.38" height="10.31" fill="#DD6A56"/>
<rect x="514.87" y="100.66" width="21.38" height="10.31" fill="#B81F31"/>
<rect x="535.95" y="100.66" width="21.38" height="10.31" fill="#A4CCE3"/>
<rect x="557.04" y="100.66" width="21.38" height="10.31" fill="#EFE2DC"/>
<rect x="578.12" y="100.66" width="21.38" height="10.31" fill="#E4E2E1"/>
<rect x="367.30" y="110.67" width="21.38" height="10.31" fill="#D4E4EC"/>
<rect x="388.38" y="110.67" width="21.38" height="10.31" fill="#F8C2A7"/>
<rect x="409.46" y="110.67" width="21.38" height="10.31" fill="#A4CCE3"/>
<rect x="430.55" y="110.67" width="21.38" height="10.31" fill="#3B82C0"/>
<rect x="451.63" y="110.67" width="21.38" height="10.31" fill="#DD6A56"/>
<rect x="472.71" y="110.67" width="21.38" height="10.31" fill="#7EB5D9"/>
<rect x="493.79" y="110.67" width="21.38" height="10.31" fill="#F3A88A"/>
<rect x="514.87" y="110.67" width="21.38" height="10.31" fill="#EFE2DC"/>
<rect x="535.95" y="110.67" width="21.38" height="10.31" fill="#EFE2DC"/>
<rect x="557.04" y="110.67" width="21.38" height="10.31" fill="#3B82C0"/>
<rect x="578.12" y="110.67" width="21.38" height="10.31" fill="#CF4A41"/>
<rect x="367.30" y="120.68" width="21.38" height="10.31" fill="#5699CB"/>
<rect x="388.38" y="120.68" width="21.38" height="10.31" fill="#C4DDEB"/>
<rect x="409.46" y="120.68" width="21.38" height="10.31" fill="#F8C2A7"/>
<rect x="430.55" y="120.68" width="21.38" height="10.31" fill="#C4DDEB"/>
<rect x="451.63" y="120.68" width="21.38" height="10.31" fill="#CF4A41"/>
<rect x="472.71" y="120.68" width="21.38" height="10.31" fill="#2162A7"/>
<rect x="493.79" y="120.68" width="21.38" height="10.31" fill="#F8C2A7"/>
<rect x="514.87" y="120.68" width="21.38" height="10.31" fill="#F3A88A"/>
<rect x="535.95" y="120.68" width="21.38" height="10.31" fill="#FAD7C5"/>
<rect x="557.04" y="120.68" width="21.38" height="10.31" fill="#D4E4EC"/>
<rect x="578.12" y="120.68" width="21.38" height="10.31" fill="#FAD7C5"/>
<rect x="367.30" y="130.69" width="21.38" height="10.31" fill="#D4E4EC"/>
<rect x="388.38" y="130.69" width="21.38" height="10.31" fill="#3B82C0"/>
<rect x="409.46" y="130.69" width="21.38" height="10.31" fill="#DD6A56"/>
<rect x="430.55" y="130.69" width="21.38" height="10.31" fill="#EFE2DC"/>
<rect x="451.63" y="130.69" width="21.38" height="10.31" fill="#DD6A56"/>
<rect x="472.71" y="130.69" width="21.38" height="10.31" fill="#7EB5D9"/>
<rect x="493.79" y="130.69" width="21.38" height="10.31" fill="#DD6A56"/>
<rect x="514.87" y="130.69" width="21.38" height="10.31" fill="#D4E4EC"/>
<rect x="535.95" y="130.69" width="21.38" height="10.31" fill="#7EB5D9"/>
<rect x="557.04" y="130.69" width="21.38" height="10.31" fill="#C4DDEB"/>
<rect x="578.12" y="130.69" width="21.38" height="10.31" fill="#F3A88A"/>
<rect x="367.30" y="140.70" width="21.38" height="10.31" fill="#2A6BAF"/>
<rect x="388.38" y="140.70" width="21.38" height="10.31" fill="#A4CCE3"/>
<rect x="409.46" y="140.70" width="21.38" height="10.31" fill="#F8C2A7"/>
<rect x="430.55" y="140.70" width="21.38" height="10.31" fill="#DD6A56"/>
<rect x="451.63" y="140.70" width="21.38" height="10.31" fill="#C4DDEB"/>
<rect x="472.71" y="140.70" width="21.38" height="10.31" fill="#FAD7C5"/>
<rect x="493.79" y="140.70" width="21.38" height="10.31" fill="#A4CCE3"/>
<rect x="514.87" y="140.70" width="21.38" height="10.31" fill="#EA8A71"/>
<rect x="535.95" y="140.70" width="21.38" height="10.31" fill="#E4E2E1"/>
<rect x="557.04" y="140.70" width="21.38" height="10.31" fill="#C4DDEB"/>
<rect x="578.12" y="140.70" width="21.38" height="10.31" fill="#DD6A56"/>
<rect x="367.30" y="150.71" width="21.38" height="10.31" fill="#2A6BAF"/>
<rect x="388.38" y="150.71" width="21.38" height="10.31" fill="#E4E2E1"/>
<rect x="409.46" y="150.71" width="21.38" height="10.31" fill="#FAD7C5"/>
<rect x="430.55" y="150.71" width="21.38" height="10.31" fill="#B81F31"/>
<rect x="451.63" y="150.71" width="21.38" height="10.31" fill="#EFE2DC"/>
<rect x="472.71" y="150.71" width="21.38" height="10.31" fill="#FAD7C5"/>
<rect x="493.79" y="150.71" width="21.38" height="10.31" fill="#F8C2A7"/>
<rect x="514.87" y="150.71" width="21.38" height="10.31" fill="#FAD7C5"/>
<rect x="535.95" y="150.71" width="21.38" height="10.31" fill="#C4DDEB"/>
<rect x="557.04" y="150.71" width="21.38" height="10.31" fill="#5699CB"/>
<rect x="578.12" y="150.71" width="21.38" height="10.31" fill="#F3A88A"/>
<rect x="367.30" y="160.73" width="21.38" height="10.31" fill="#0B3A72"/>
<rect x="388.38" y="160.73" width="21.38" height="10.31" fill="#C4DDEB"/>
<rect x="409.46" y="160.73" width="21.38" height="10.31" fill="#A4CCE3"/>
<rect x="430.55" y="160.73" width="21.38" height="10.31" fill="#FAD7C5"/>
<rect x="451.63" y="160.73" width="21.38" height="10.31" fill="#F3A88A"/>
<rect x="472.71" y="160.73" width="21.38" height="10.31" fill="#C4DDEB"/>
<rect x="493.79" y="160.73" width="21.38" height="10.31" fill="#F8C2A7"/>
<rect x="514.87" y="160.73" width="21.38" height="10.31" fill="#F8C2A7"/>
<rect x="535.95" y="160.73" width="21.38" height="10.31" fill="#F3A88A"/>
<rect x="557.04" y="160.73" width="21.38" height="10.31" fill="#EFE2DC"/>
<rect x="578.12" y="160.73" width="21.38" height="10.31" fill="#DD6A56"/>
<rect x="367.30" y="170.74" width="21.38" height="10.31" fill="#3B82C0"/>
<rect x="388.38" y="170.74" width="21.38" height="10.31" fill="#7EB5D9"/>
<rect x="409.46" y="170.74" width="21.38" height="10.31" fill="#A4CCE3"/>
<rect x="430.55" y="170.74" width="21.38" height="10.31" fill="#D4E4EC"/>
<rect x="451.63" y="170.74" width="21.38" height="10.31" fill="#F8C2A7"/>
<rect x="472.71" y="170.74" width="21.38" height="10.31" fill="#A4CCE3"/>
<rect x="493.79" y="170.74" width="21.38" height="10.31" fill="#DD6A56"/>
<rect x="514.87" y="170.74" width="21.38" height="10.31" fill="#F8C2A7"/>
<rect x="535.95" y="170.74" width="21.38" height="10.31" fill="#EA8A71"/>
<rect x="557.04" y="170.74" width="21.38" height="10.31" fill="#C4DDEB"/>
<rect x="578.12" y="170.74" width="21.38" height="10.31" fill="#DD6A56"/>
<rect x="367.30" y="180.75" width="21.38" height="10.31" fill="#0B3A72"/>
<rect x="388.38" y="180.75" width="21.38" height="10.31" fill="#E4E2E1"/>
<rect x="409.46" y="180.75" width="21.38" height="10.31" fill="#A4CCE3"/>
<rect x="430.55" y="180.75" width="21.38" height="10.31" fill="#A4CCE3"/>
<rect x="451.63" y="180.75" width="21.38" height="10.31" fill="#FAD7C5"/>
<rect x="472.71" y="180.75" width="21.38" height="10.31" fill="#F3A88A"/>
<rect x="493.79" y="180.75" width="21.38" height="10.31" fill="#FAD7C5"/>
<rect x="514.87" y="180.75" width="21.38" height="10.31" fill="#F8C2A7"/>
<rect x="535.95" y="180.75" width="21.38" height="10.31" fill="#F3A88A"/>
<rect x="557.04" y="180.75" width="21.38" height="10.31" fill="#DD6A56"/>
<rect x="578.12" y="180.75" width="21.38" height="10.31" fill="#FAD7C5"/>
<rect x="367.30" y="190.76" width="21.38" height="10.31" fill="#3B82C0"/>
<rect x="388.38" y="190.76" width="21.38" height="10.31" fill="#5699CB"/>
<rect x="409.46" y="190.76" width="21.38" height="10.31" fill="#5699CB"/>
<rect x="430.55" y="190.76" width="21.38" height="10.31" fill="#D4E4EC"/>
<rect x="451.63" y="190.76" width="21.38" height="10.31" fill="#D4E4EC"/>
<rect x="472.71" y="190.76" width="21.38" height="10.31" fill="#EFE2DC"/>
<rect x="493.79" y="190.76" width="21.38" height="10.31" fill="#FAD7C5"/>
<rect x="514.87" y="190.76" width="21.38" height="10.31" fill="#F8C2A7"/>
<rect x="535.95" y="190.76" width="21.38" height="10.31" fill="#EA8A71"/>
<rect x="557.04" y="190.76" width="21.38" height="10.31" fill="#DD6A56"/>
<rect x="578.12" y="190.76" width="21.38" height="10.31" fill="#DD6A56"/>
<rect x="367.30" y="200.77" width="21.38" height="10.31" fill="#A4CCE3"/>
<rect x="388.38" y="200.77" width="21.38" height="10.31" fill="#C4DDEB"/>
<rect x="409.46" y="200.77" width="21.38" height="10.31" fill="#2162A7"/>
<rect x="430.55" y="200.77" width="21.38" height="10.31" fill="#A4CCE3"/>
<rect x="451.63" y="200.77" width="21.38" height="10.31" fill="#DD6A56"/>
<rect x="472.71" y="200.77" width="21.38" height="10.31" fill="#F3A88A"/>
<rect x="493.79" y="200.77" width="21.38" height="10.31" fill="#F3A88A"/>
<rect x="514.87" y="200.77" width="21.38" height="10.31" fill="#EA8A71"/>
<rect x="535.95" y="200.77" width="21.38" height="10.31" fill="#C4DDEB"/>
<rect x="557.04" y="200.77" width="21.38" height="10.31" fill="#F8C2A7"/>
<rect x="578.12" y="200.77" width="21.38" height="10.31" fill="#D4E4EC"/>
<rect x="367.30" y="210.78" width="21.38" height="10.31" fill="#2A6BAF"/>
<rect x="388.38" y="210.78" width="21.38" height="10.31" fill="#F8C2A7"/>
<rect x="409.46" y="210.78" width="21.38" height="10.31" fill="#D4E4EC"/>
<rect x="430.55" y="210.78" width="21.38" height="10.31" fill="#C4DDEB"/>
<rect x="451.63" y="210.78" width="21.38" height="10.31" fill="#FAD7C5"/>
<rect x="472.71" y="210.78" width="21.38" height="10.31" fill="#EA8A71"/>
<rect x="493.79" y="210.78" width="21.38" height="10.31" fill="#EA8A71"/>
<rect x="514.87" y="210.78" width="21.38" height="10.31" fill="#FAD7C5"/>
<rect x="535.95" y="210.78" width="21.38" height="10.31" fill="#DD6A56"/>
<rect x="557.04" y="210.78" width="21.38" height="10.31" fill="#D4E4EC"/>
<rect x="578.12" y="210.78" width="21.38" height="10.31" fill="#3B82C0"/>
<rect x="367.30" y="220.79" width="21.38" height="10.31" fill="#EA8A71"/>
<rect x="388.38" y="220.79" width="21.38" height="10.31" fill="#EFE2DC"/>
<rect x="409.46" y="220.79" width="21.38" height="10.31" fill="#E4E2E1"/>
<rect x="430.55" y="220.79" width="21.38" height="10.31" fill="#FAD7C5"/>
<rect x="451.63" y="220.79" width="21.38" height="10.31" fill="#7EB5D9"/>
<rect x="472.71" y="220.79" width="21.38" height="10.31" fill="#FAD7C5"/>
<rect x="493.79" y="220.79" width="21.38" height="10.31" fill="#0B3A72"/>
<rect x="514.87" y="220.79" width="21.38" height="10.31" fill="#DD6A56"/>
<rect x="535.95" y="220.79" width="21.38" height="10.31" fill="#D4E4EC"/>
<rect x="557.04" y="220.79" width="21.38" height="10.31" fill="#F8C2A7"/>
<rect x="578.12" y="220.79" width="21.38" height="10.31" fill="#FAD7C5"/>
<rect x="367.30" y="230.81" width="21.38" height="10.31" fill="#EA8A71"/>
<rect x="388.38" y="230.81" width="21.38" height="10.31" fill="#3B82C0"/>
<rect x="409.46" y="230.81" width="21.38" height="10.31" fill="#D4E4EC"/>
<rect x="430.55" y="230.81" width="21.38" height="10.31" fill="#7EB5D9"/>
<rect x="451.63" y="230.81" width="21.38" height="10.31" fill="#EFE2DC"/>
<rect x="472.71" y="230.81" width="21.38" height="10.31" fill="#FAD7C5"/>
<rect x="493.79" y="230.81" width="21.38" height="10.31" fill="#F3A88A"/>
<rect x="514.87" y="230.81" width="21.38" height="10.31" fill="#CF4A41"/>
<rect x="535.95" y="230.81" width="21.38" height="10.31" fill="#FAD7C5"/>
<rect x="557.04" y="230.81" width="21.38" height="10.31" fill="#E4E2E1"/>
<rect x="578.12" y="230.81" width="21.38" height="10.31" fill="#3B82C0"/>
<rect x="367.30" y="240.82" width="21.38" height="10.31" fill="#B81F31"/>
<rect x="388.38" y="240.82" width="21.38" height="10.31" fill="#D4E4EC"/>
<rect x="409.46" y="240.82" width="21.38" height="10.31" fill="#F8C2A7"/>
<rect x="430.55" y="240.82" width="21.38" height="10.31" fill="#A4CCE3"/>
<rect x="451.63" y="240.82" width="21.38" height="10.31" fill="#A4CCE3"/>
<rect x="472.71" y="240.82" width="21.38" height="10.31" fill="#FAD7C5"/>
<rect x="493.79" y="240.82" width="21.38" height="10.31" fill="#EFE2DC"/>
<rect x="514.87" y="240.82" width="21.38" height="10.31" fill="#F3A88A"/>
<rect x="535.95" y="240.82" width="21.38" height="10.31" fill="#FAD7C5"/>
<rect x="557.04" y="240.82" width="21.38" height="10.31" fill="#EFE2DC"/>
<rect x="578.12" y="240.82" width="21.38" height="10.31" fill="#2162A7"/>
<rect x="367.30" y="250.83" width="21.38" height="10.31" fill="#DD6A56"/>
<rect x="388.38" y="250.83" width="21.38" height="10.31" fill="#F8C2A7"/>
<rect x="409.46" y="250.83" width="21.38" height="10.31" fill="#F3A88A"/>
<rect x="430.55" y="250.83" width="21.38" height="10.31" fill="#F8C2A7"/>
<rect x="451.63" y="250.83" width="21.38" height="10.31" fill="#C4DDEB"/>
<rect x="472.71" y="250.83" width="21.38" height="10.31" fill="#F8C2A7"/>
<rect x="493.79" y="250.83" width="21.38" height="10.31" fill="#EFE2DC"/>
<rect x="514.87" y="250.83" width="21.38" height="10.31" fill="#E4E2E1"/>
<rect x="535.95" y="250.83" width="21.38" height="10.31" fill="#C4DDEB"/>
<rect x="557.04" y="250.83" width="21.38" height="10.31" fill="#A4CCE3"/>
<rect x="578.12" y="250.83" width="21.38" height="10.31" fill="#0B3A72"/>
<rect x="367.30" y="260.84" width="21.38" height="10.31" fill="#F3A88A"/>
<rect x="388.38" y="260.84" width="21.38" height="10.31" fill="#F8C2A7"/>
<rect x="409.46" y="260.84" width="21.38" height="10.31" fill="#D4E4EC"/>
<rect x="430.55" y="260.84" width="21.38" height="10.31" fill="#5699CB"/>
<rect x="451.63" y="260.84" width="21.38" height="10.31" fill="#D4E4EC"/>
<rect x="472.71" y="260.84" width="21.38" height="10.31" fill="#DD6A56"/>
<rect x="493.79" y="260.84" width="21.38" height="10.31" fill="#C4DDEB"/>
<rect x="514.87" y="260.84" width="21.38" height="10.31" fill="#F8C2A7"/>
<rect x="535.95" y="260.84" width="21.38" height="10.31" fill="#F3A88A"/>
<rect x="557.04" y="260.84" width="21.38" height="10.31" fill="#3B82C0"/>
<rect x="578.12" y="260.84" width="21.38" height="10.31" fill="#7EB5D9"/>
<rect x="367.30" y="270.85" width="21.38" height="10.31" fill="#DD6A56"/>
<rect x="388.38" y="270.85" width="21.38" height="10.31" fill="#D4E4EC"/>
<rect x="409.46" y="270.85" width="21.38" height="10.31" fill="#DD6A56"/>
<rect x="430.55" y="270.85" width="21.38" height="10.31" fill="#D4E4EC"/>
<rect x="451.63" y="270.85" width="21.38" height="10.31" fill="#F8C2A7"/>
<rect x="472.71" y="270.85" width="21.38" height="10.31" fill="#EA8A71"/>
<rect x="493.79" y="270.85" width="21.38" height="10.31" fill="#7EB5D9"/>
<rect x="514.87" y="270.85" width="21.38" height="10.31" fill="#7EB5D9"/>
<rect x="535.95" y="270.85" width="21.38" height="10.31" fill="#C4DDEB"/>
<rect x="557.04" y="270.85" width="21.38" height="10.31" fill="#3B82C0"/>
<rect x="578.12" y="270.85" width="21.38" height="10.31" fill="#EFE2DC"/>
<rect x="367.30" y="280.86" width="21.38" height="10.31" fill="#DD6A56"/>
<rect x="388.38" y="280.86" width="21.38" height="10.31" fill="#FAD7C5"/>
<rect x="409.46" y="280.86" width="21.38" height="10.31" fill="#D4E4EC"/>
<rect x="430.55" y="280.86" width="21.38" height="10.31" fill="#7EB5D9"/>
<rect x="451.63" y="280.86" width="21.38" height="10.31" fill="#F3A88A"/>
<rect x="472.71" y="280.86" width="21.38" height="10.31" fill="#F8C2A7"/>
<rect x="493.79" y="280.86" width="21.38" height="10.31" fill="#A4CCE3"/>
<rect x="514.87" y="280.86" width="21.38" height="10.31" fill="#3B82C0"/>
<rect x="535.95" y="280.86" width="21.38" height="10.31" fill="#FAD7C5"/>
<rect x="557.04" y="280.86" width="21.38" height="10.31" fill="#5699CB"/>
<rect x="578.12" y="280.86" width="21.38" height="10.31" fill="#DD6A56"/>
<rect x="367.30" y="290.87" width="21.38" height="10.31" fill="#A4CCE3"/>
<rect x="388.38" y="290.87" width="21.38" height="10.31" fill="#DD6A56"/>
<rect x="409.46" y="290.87" width="21.38" height="10.31" fill="#DD6A56"/>
<rect x="430.55" y="290.87" width="21.38" height="10.31" fill="#7EB5D9"/>
<rect x="451.63" y="290.87" width="21.38" height="10.31" fill="#F8C2A7"/>
<rect x="472.71" y="290.87" width="21.38" height="10.31" fill="#D4E4EC"/>
<rect x="493.79" y="290.87" width="21.38" height="10.31" fill="#D4E4EC"/>
<rect x="514.87" y="290.87" width="21.38" height="10.31" fill="#2A6BAF"/>
<rect x="535.95" y="290.87" width="21.38" height="10.31" fill="#DD6A56"/>
<rect x="557.04" y="290.87" width="21.38" height="10.31" fill="#A4CCE3"/>
<rect x="578.12" y="290.87" width="21.38" height="10.31" fill="#FAD7C5"/>
<rect x="367.30" y="300.89" width="21.38" height="10.31" fill="#F8C2A7"/>
<rect x="388.38" y="300.89" width="21.38" height="10.31" fill="#F3A88A"/>
<rect x="409.46" y="300.89" width="21.38" height="10.31" fill="#7EB5D9"/>
<rect x="430.55" y="300.89" width="21.38" height="10.31" fill="#EA8A71"/>
<rect x="451.63" y="300.89" width="21.38" height="10.31" fill="#EA8A71"/>
<rect x="472.71" y="300.89" width="21.38" height="10.31" fill="#F8C2A7"/>
<rect x="493.79" y="300.89" width="21.38" height="10.31" fill="#A4CCE3"/>
<rect x="514.87" y="300.89" width="21.38" height="10.31" fill="#2162A7"/>
<rect x="535.95" y="300.89" width="21.38" height="10.31" fill="#F8C2A7"/>
<rect x="557.04" y="300.89" width="21.38" height="10.31" fill="#A4CCE3"/>
<rect x="578.12" y="300.89" width="21.38" height="10.31" fill="#C4DDEB"/>
<rect x="367.30" y="310.90" width="21.38" height="10.31" fill="#EA8A71"/>
<rect x="388.38" y="310.90" width="21.38" height="10.31" fill="#F8C2A7"/>
<rect x="409.46" y="310.90" width="21.38" height="10.31" fill="#F8C2A7"/>
<rect x="430.55" y="310.90" width="21.38" height="10.31" fill="#DD6A56"/>
<rect x="451.63" y="310.90" width="21.38" height="10.31" fill="#EFE2DC"/>
<rect x="472.71" y="310.90" width="21.38" height="10.31" fill="#FAD7C5"/>
<rect x="493.79" y="310.90" width="21.38" height="10.31" fill="#5699CB"/>
<rect x="514.87" y="310.90" width="21.38" height="10.31" fill="#2A6BAF"/>
<rect x="535.95" y="310.90" width="21.38" height="10.31" fill="#EFE2DC"/>
<rect x="557.04" y="310.90" width="21.38" height="10.31" fill="#D4E4EC"/>
<rect x="578.12" y="310.90" width="21.38" height="10.31" fill="#5699CB"/>
<rect x="367.30" y="320.91" width="21.38" height="10.31" fill="#F8C2A7"/>
<rect x="388.38" y="320.91" width="21.38" height="10.31" fill="#DD6A56"/>
<rect x="409.46" y="320.91" width="21.38" height="10.31" fill="#EFE2DC"/>
<rect x="430.55" y="320.91" width="21.38" height="10.31" fill="#7EB5D9"/>
<rect x="451.63" y="320.91" width="21.38" height="10.31" fill="#960D27"/>
<rect x="472.71" y="320.91" width="21.38" height="10.31" fill="#E4E2E1"/>
<rect x="493.79" y="320.91" width="21.38" height="10.31" fill="#C4DDEB"/>
<rect x="514.87" y="320.91" width="21.38" height="10.31" fill="#7EB5D9"/>
<rect x="535.95" y="320.91" width="21.38" height="10.31" fill="#5699CB"/>
<rect x="557.04" y="320.91" width="21.38" height="10.31" fill="#E4E2E1"/>
<rect x="578.12" y="320.91" width="21.38" height="10.31" fill="#A4CCE3"/>
<rect x="367.30" y="330.92" width="21.38" height="10.31" fill="#FAD7C5"/>
<rect x="388.38" y="330.92" width="21.38" height="10.31" fill="#F3A88A"/>
<rect x="409.46" y="330.92" width="21.38" height="10.31" fill="#F8C2A7"/>
<rect x="430.55" y="330.92" width="21.38" height="10.31" fill="#C4DDEB"/>
<rect x="451.63" y="330.92" width="21.38" height="10.31" fill="#DD6A56"/>
<rect x="472.71" y="330.92" width="21.38" height="10.31" fill="#EFE2DC"/>
<rect x="493.79" y="330.92" width="21.38" height="10.31" fill="#D4E4EC"/>
<rect x="514.87" y="330.92" width="21.38" height="10.31" fill="#A4CCE3"/>
<rect x="535.95" y="330.92" width="21.38" height="10.31" fill="#3B82C0"/>
<rect x="557.04" y="330.92" width="21.38" height="10.31" fill="#DD6A56"/>
<rect x="578.12" y="330.92" width="21.38" height="10.31" fill="#3B82C0"/>
<rect x="367.30" y="340.93" width="21.38" height="10.31" fill="#F3A88A"/>
<rect x="388.38" y="340.93" width="21.38" height="10.31" fill="#F3A88A"/>
<rect x="409.46" y="340.93" width="21.38" height="10.31" fill="#EA8A71"/>
<rect x="430.55" y="340.93" width="21.38" height="10.31" fill="#E4E2E1"/>
<rect x="451.63" y="340.93" width="21.38" height="10.31" fill="#CF4A41"/>
<rect x="472.71" y="340.93" width="21.38" height="10.31" fill="#C4DDEB"/>
<rect x="493.79" y="340.93" width="21.38" height="10.31" fill="#C4DDEB"/>
<rect x="514.87" y="340.93" width="21.38" height="10.31" fill="#EFE2DC"/>
<rect x="535.95" y="340.93" width="21.38" height="10.31" fill="#2162A7"/>
<rect x="557.04" y="340.93" width="21.38" height="10.31" fill="#D4E4EC"/>
<rect x="578.12" y="340.93" width="21.38" height="10.31" fill="#5699CB"/>
<rect x="367.30" y="350.94" width="21.38" height="10.31" fill="#FAD7C5"/>
<rect x="388.38" y="350.94" width="21.38" height="10.31" fill="#960D27"/>
<rect x="409.46" y="350.94" width="21.38" height="10.31" fill="#F8C2A7"/>
<rect x="430.55" y="350.94" width="21.38" height="10.31" fill="#FAD7C5"/>
<rect x="451.63" y="350.94" width="21.38" height="10.31" fill="#FAD7C5"/>
<rect x="472.71" y="350.94" width="21.38" height="10.31" fill="#3B82C0"/>
<rect x="493.79" y="350.94" width="21.38" height="10.31" fill="#FAD7C5"/>
<rect x="514.87" y="350.94" width="21.38" height="10.31" fill="#A4CCE3"/>
<rect x="535.95" y="350.94" width="21.38" height="10.31" fill="#D4E4EC"/>
<rect x="557.04" y="350.94" width="21.38" height="10.31" fill="#7EB5D9"/>
<rect x="578.12" y="350.94" width="21.38" height="10.31" fill="#A4CCE3"/>
<rect x="367.30" y="360.95" width="21.38" height="10.31" fill="#F8C2A7"/>
<rect x="388.38" y="360.95" width="21.38" height="10.31" fill="#CF4A41"/>
<rect x="409.46" y="360.95" width="21.38" height="10.31" fill="#F3A88A"/>
<rect x="430.55" y="360.95" width="21.38" height="10.31" fill="#EA8A71"/>
<rect x="451.63" y="360.95" width="21.38" height="10.31" fill="#F8C2A7"/>
<rect x="472.71" y="360.95" width="21.38" height="10.31" fill="#7EB5D9"/>
<rect x="493.79" y="360.95" width="21.38" height="10.31" fill="#FAD7C5"/>
<rect x="514.87" y="360.95" width="21.38" height="10.31" fill="#D4E4EC"/>
<rect x="535.95" y="360.95" width="21.38" height="10.31" fill="#7EB5D9"/>
<rect x="557.04" y="360.95" width="21.38" height="10.31" fill="#7EB5D9"/>
<rect x="578.12" y="360.95" width="21.38" height="10.31" fill="#3B82C0"/>
<rect x="367.30" y="370.97" width="21.38" height="10.31" fill="#EA8A71"/>
<rect x="388.38" y="370.97" width="21.38" height="10.31" fill="#C4DDEB"/>
<rect x="409.46" y="370.97" width="21.38" height="10.31" fill="#EA8A71"/>
<rect x="430.55" y="370.97" width="21.38" height="10.31" fill="#EA8A71"/>
<rect x="451.63" y="370.97" width="21.38" height="10.31" fill="#E4E2E1"/>
<rect x="472.71" y="370.97" width="21.38" height="10.31" fill="#0B3A72"/>
<rect x="493.79" y="370.97" width="21.38" height="10.31" fill="#EFE2DC"/>
<rect x="514.87" y="370.97" width="21.38" height="10.31" fill="#D4E4EC"/>
<rect x="535.95" y="370.97" width="21.38" height="10.31" fill="#FAD7C5"/>
<rect x="557.04" y="370.97" width="21.38" height="10.31" fill="#7EB5D9"/>
<rect x="578.12" y="370.97" width="21.38" height="10.31" fill="#F8C2A7"/>
<rect x="367.30" y="380.98" width="21.38" height="10.31" fill="#F3A88A"/>
<rect x="388.38" y="380.98" width="21.38" height="10.31" fill="#A4CCE3"/>
<rect x="409.46" y="380.98" width="21.38" height="10.31" fill="#F3A88A"/>
<rect x="430.55" y="380.98" width="21.38" height="10.31" fill="#EA8A71"/>
<rect x="451.63" y="380.98" width="21.38" height="10.31" fill="#DD6A56"/>
<rect x="472.71" y="380.98" width="21.38" height="10.31" fill="#5699CB"/>
<rect x="493.79" y="380.98" width="21.38" height="10.31" fill="#D4E4EC"/>
<rect x="514.87" y="380.98" width="21.38" height="10.31" fill="#C4DDEB"/>
<rect x="535.95" y="380.98" width="21.38" height="10.31" fill="#FAD7C5"/>
<rect x="557.04" y="380.98" width="21.38" height="10.31" fill="#FAD7C5"/>
<rect x="578.12" y="380.98" width="21.38" height="10.31" fill="#3B82C0"/>
<rect x="367.30" y="390.99" width="21.38" height="10.31" fill="#960D27"/>
<rect x="388.38" y="390.99" width="21.38" height="10.31" fill="#F8C2A7"/>
<rect x="409.46" y="390.99" width="21.38" height="10.31" fill="#D4E4EC"/>
<rect x="430.55" y="390.99" width="21.38" height="10.31" fill="#F8C2A7"/>
<rect x="451.63" y="390.99" width="21.38" height="10.31" fill="#DD6A56"/>
<rect x="472.71" y="390.99" width="21.38" height="10.31" fill="#A4CCE3"/>
<rect x="493.79" y="390.99" width="21.38" height="10.31" fill="#7EB5D9"/>
<rect x="514.87" y="390.99" width="21.38" height="10.31" fill="#A4CCE3"/>
<rect x="535.95" y="390.99" width="21.38" height="10.31" fill="#E4E2E1"/>
<rect x="557.04" y="390.99" width="21.38" height="10.31" fill="#E4E2E1"/>
<rect x="578.12" y="390.99" width="21.38" height="10.31" fill="#7EB5D9"/>
<path d="M13.3 150.9L13.3 302.6 M13.3 150.9L34.8 150.9 M13.3 302.6L33.0 302.6 M34.8 105.7L34.8 196.0 M34.8 105.7L38.7 105.7 M34.8 196.0L41.8 196.0 M38.7 80.3L38.7 131.2 M38.7 80.3L41.1 80.3 M38.7 131.2L40.6 131.2 M41.1 64.9L41.1 95.6 M41.1 64.9L42.7 64.9 M41.1 95.6L43.9 95.6 M42.7 56.6L42.7 73.3 M42.7 56.6L46.0 56.6 M42.7 73.3L43.9 73.3 M43.9 67.7L43.9 78.9 M43.9 67.7L46.0 67.7 M43.9 78.9L46.0 78.9 M43.9 90.0L43.9 101.2 M43.9 90.0L46.0 90.0 M43.9 101.2L46.0 101.2 M40.6 117.9L40.6 144.4 M40.6 117.9L43.9 117.9 M40.6 144.4L41.8 144.4 M43.9 112.4L43.9 123.5 M43.9 112.4L46.0 112.4 M43.9 123.5L46.0 123.5 M41.8 134.7L41.8 154.2 M41.8 134.7L46.0 134.7 M41.8 154.2L42.7 154.2 M42.7 145.8L42.7 162.6 M42.7 145.8L46.0 145.8 M42.7 162.6L43.9 162.6 M43.9 157.0L43.9 168.1 M43.9 157.0L46.0 157.0 M43.9 168.1L46.0 168.1 M41.8 184.9L41.8 207.2 M41.8 184.9L43.9 184.9 M41.8 207.2L43.9 207.2 M43.9 179.3L43.9 190.5 M43.9 179.3L46.0 179.3 M43.9 190.5L46.0 190.5 M43.9 201.6L43.9 212.8 M43.9 201.6L46.0 201.6 M43.9 212.8L46.0 212.8 M33.0 245.4L33.0 359.9 M33.0 245.4L39.3 245.4 M33.0 359.9L39.7 359.9 M39.3 229.5L39.3 261.2 M39.3 229.5L43.9 229.5 M39.3 261.2L40.2 261.2 M43.9 223.9L43.9 235.1 M43.9 223.9L46.0 223.9 M43.9 235.1L46.0 235.1 M40.2 246.2L40.2 276.2 M40.2 246.2L46.0 246.2 M40.2 276.2L41.1 276.2 M41.1 263.0L41.1 289.5 M41.1 263.0L43.9 263.0 M41.1 289.5L42.0 289.5 M43.9 257.4L43.9 268.5 M43.9 257.4L46.0 257.4 M43.9 268.5L46.0 268.5 M42.0 279.7L42.0 299.2 M42.0 279.7L46.0 279.7 M42.0 299.2L42.9 299.2 M42.9 290.9L42.9 307.6 M42.9 290.9L46.0 290.9 M42.9 307.6L43.9 307.6 M43.9 302.0L43.9 313.2 M43.9 302.0L46.0 302.0 M43.9 313.2L46.0 313.2 M39.7 341.1L39.7 378.7 M39.7 341.1L41.8 341.1 M39.7 378.7L41.8 378.7 M41.8 329.9L41.8 352.2 M41.8 329.9L43.9 329.9 M41.8 352.2L43.9 352.2 M43.9 324.3L43.9 335.5 M43.9 324.3L46.0 324.3 M43.9 335.5L46.0 335.5 M43.9 346.6L43.9 357.8 M43.9 346.6L46.0 346.6 M43.9 357.8L46.0 357.8 M41.8 369.0L41.8 388.5 M41.8 369.0L46.0 369.0 M41.8 388.5L42.7 388.5 M42.7 380.1L42.7 396.8 M42.7 380.1L46.0 380.1 M42.7 396.8L43.9 396.8 M43.9 391.3L43.9 402.4 M43.9 391.3L46.0 391.3 M43.9 402.4L46.0 402.4" stroke="#444" stroke-width="0.7" fill="none"/>
<path d="M335.4 106.6L335.4 282.3 M335.4 106.6L357.1 106.6 M335.4 282.3L354.4 282.3 M357.1 70.6L357.1 142.6 M357.1 70.6L361.6 70.6 M357.1 142.6L358.0 142.6 M361.6 60.6L361.6 80.6 M361.6 60.6L363.9 60.6 M361.6 80.6L363.9 80.6 M363.9 55.6L363.9 65.6 M363.9 55.6L367.3 55.6 M363.9 65.6L367.3 65.6 M363.9 75.6L363.9 85.6 M363.9 75.6L367.3 75.6 M363.9 85.6L367.3 85.6 M358.0 111.9L358.0 173.2 M358.0 111.9L360.9 111.9 M358.0 173.2L359.3 173.2 M360.9 100.7L360.9 123.2 M360.9 100.7L363.9 100.7 M360.9 123.2L362.6 123.2 M363.9 95.7L363.9 105.7 M363.9 95.7L367.3 95.7 M363.9 105.7L367.3 105.7 M362.6 115.7L362.6 130.7 M362.6 115.7L367.3 115.7 M362.6 130.7L363.9 130.7 M363.9 125.7L363.9 135.7 M363.9 125.7L367.3 125.7 M363.9 135.7L367.3 135.7 M359.3 150.7L359.3 195.8 M359.3 150.7L363.9 150.7 M359.3 195.8L360.3 195.8 M363.9 145.7L363.9 155.7 M363.9 145.7L367.3 145.7 M363.9 155.7L367.3 155.7 M360.3 180.7L360.3 210.8 M360.3 180.7L361.6 180.7 M360.3 210.8L363.9 210.8 M361.6 170.7L361.6 190.8 M361.6 170.7L363.9 170.7 M361.6 190.8L363.9 190.8 M363.9 165.7L363.9 175.7 M363.9 165.7L367.3 165.7 M363.9 175.7L367.3 175.7 M363.9 185.8L363.9 195.8 M363.9 185.8L367.3 185.8 M363.9 195.8L367.3 195.8 M363.9 205.8L363.9 215.8 M363.9 205.8L367.3 205.8 M363.9 215.8L367.3 215.8 M354.4 238.3L354.4 326.2 M354.4 238.3L360.9 238.3 M354.4 326.2L357.7 326.2 M360.9 225.8L360.9 250.8 M360.9 225.8L367.3 225.8 M360.9 250.8L361.8 250.8 M361.8 240.8L361.8 260.8 M361.8 240.8L363.9 240.8 M361.8 260.8L363.9 260.8 M363.9 235.8L363.9 245.8 M363.9 235.8L367.3 235.8 M363.9 245.8L367.3 245.8 M363.9 255.8L363.9 265.8 M363.9 255.8L367.3 255.8 M363.9 265.8L367.3 265.8 M357.7 299.6L357.7 352.8 M357.7 299.6L360.9 299.6 M357.7 352.8L359.3 352.8 M360.9 288.4L360.9 310.9 M360.9 288.4L362.6 288.4 M360.9 310.9L363.9 310.9 M362.6 280.9L362.6 295.9 M362.6 280.9L363.9 280.9 M362.6 295.9L367.3 295.9 M363.9 275.9L363.9 285.9 M363.9 275.9L367.3 275.9 M363.9 285.9L367.3 285.9 M363.9 305.9L363.9 315.9 M363.9 305.9L367.3 305.9 M363.9 315.9L367.3 315.9 M359.3 333.4L359.3 372.2 M359.3 333.4L362.6 333.4 M359.3 372.2L360.9 372.2 M362.6 325.9L362.6 340.9 M362.6 325.9L367.3 325.9 M362.6 340.9L363.9 340.9 M363.9 335.9L363.9 345.9 M363.9 335.9L367.3 335.9 M363.9 345.9L367.3 345.9 M360.9 361.0L360.9 383.5 M360.9 361.0L363.9 361.0 M360.9 383.5L362.6 383.5 M363.9 355.9L363.9 366.0 M363.9 355.9L367.3 355.9 M363.9 366.0L367.3 366.0 M362.6 376.0L362.6 391.0 M362.6 376.0L367.3 376.0 M362.6 391.0L363.9 391.0 M363.9 386.0L363.9 396.0 M363.9 386.0L367.3 386.0 M363.9 396.0L367.3 396.0" stroke="#444" stroke-width="0.7" fill="none"/>
<rect x="326" y="43" width="7" height="93" fill="url(#cb)"/>
<rect x="645.3" y="43.2" width="6.1" height="90.3" fill="url(#cb)"/>
<clipPath id="cl"><rect x="26.25" y="409.5" width="295.05" height="232.20000000000005"/></clipPath>
<rect x="26.25" y="409.5" width="295.05" height="232.20000000000005" fill="#EBEBEB"/>
<line x1="69.6" y1="409.5" x2="69.6" y2="641.7" stroke="#F8F8F8" stroke-width="0.8"/>
<line x1="141.8" y1="409.5" x2="141.8" y2="641.7" stroke="#F8F8F8" stroke-width="0.8"/>
<line x1="212.7" y1="409.5" x2="212.7" y2="641.7" stroke="#F8F8F8" stroke-width="0.8"/>
<line x1="284.7" y1="409.5" x2="284.7" y2="641.7" stroke="#F8F8F8" stroke-width="0.8"/>
<line x1="26.25" y1="426.5" x2="321.3" y2="426.5" stroke="#F8F8F8" stroke-width="0.8"/>
<line x1="26.25" y1="490.3" x2="321.3" y2="490.3" stroke="#F8F8F8" stroke-width="0.8"/>
<line x1="26.25" y1="554" x2="321.3" y2="554" stroke="#F8F8F8" stroke-width="0.8"/>
<line x1="26.25" y1="617.5" x2="321.3" y2="617.5" stroke="#F8F8F8" stroke-width="0.8"/>
<line x1="34.3" y1="409.5" x2="34.3" y2="641.7" stroke="#FFFFFF" stroke-width="0.95"/>
<line x1="105.5" y1="409.5" x2="105.5" y2="641.7" stroke="#FFFFFF" stroke-width="0.95"/>
<line x1="177.2" y1="409.5" x2="177.2" y2="641.7" stroke="#FFFFFF" stroke-width="0.95"/>
<line x1="248.5" y1="409.5" x2="248.5" y2="641.7" stroke="#FFFFFF" stroke-width="0.95"/>
<line x1="319.7" y1="409.5" x2="319.7" y2="641.7" stroke="#FFFFFF" stroke-width="0.95"/>
<line x1="26.25" y1="458.3" x2="321.3" y2="458.3" stroke="#FFFFFF" stroke-width="0.95"/>
<line x1="26.25" y1="522.2" x2="321.3" y2="522.2" stroke="#FFFFFF" stroke-width="0.95"/>
<line x1="26.25" y1="585.3" x2="321.3" y2="585.3" stroke="#FFFFFF" stroke-width="0.95"/>
<line x1="177.2" y1="409.5" x2="177.2" y2="641.7" stroke="#A8A8A8" stroke-width="0.9"/>
<line x1="26.25" y1="522.2" x2="321.3" y2="522.2" stroke="#A8A8A8" stroke-width="0.9"/>
<line x1="34.3" y1="641.7" x2="34.3" y2="643.7" stroke="#333" stroke-width="0.8"/>
<line x1="105.5" y1="641.7" x2="105.5" y2="643.7" stroke="#333" stroke-width="0.8"/>
<line x1="177.2" y1="641.7" x2="177.2" y2="643.7" stroke="#333" stroke-width="0.8"/>
<line x1="248.5" y1="641.7" x2="248.5" y2="643.7" stroke="#333" stroke-width="0.8"/>
<line x1="319.7" y1="641.7" x2="319.7" y2="643.7" stroke="#333" stroke-width="0.8"/>
<line x1="23.75" y1="458.3" x2="26.25" y2="458.3" stroke="#333" stroke-width="0.8"/>
<line x1="23.75" y1="522.2" x2="26.25" y2="522.2" stroke="#333" stroke-width="0.8"/>
<line x1="23.75" y1="585.3" x2="26.25" y2="585.3" stroke="#333" stroke-width="0.8"/>
<g clip-path="url(#cl)">
<circle cx="218.2" cy="453.5" r="3.5" fill="#00BFC4"/>
<circle cx="196.8" cy="474" r="3.5" fill="#00BFC4"/>
<circle cx="222.3" cy="480.3" r="3.5" fill="#00BFC4"/>
<circle cx="196.8" cy="492.3" r="3.5" fill="#00BFC4"/>
<circle cx="179.3" cy="504.3" r="3.5" fill="#00BFC4"/>
<circle cx="211" cy="499.8" r="3.5" fill="#00BFC4"/>
<circle cx="206.8" cy="505.7" r="3.5" fill="#00BFC4"/>
<circle cx="213.5" cy="506.5" r="3.5" fill="#00BFC4"/>
<circle cx="211.8" cy="511" r="3.5" fill="#00BFC4"/>
<circle cx="224.3" cy="502.3" r="3.5" fill="#00BFC4"/>
<circle cx="227.7" cy="502.3" r="3.5" fill="#00BFC4"/>
<circle cx="234.8" cy="505.3" r="3.5" fill="#00BFC4"/>
<circle cx="219.3" cy="512.3" r="3.5" fill="#00BFC4"/>
<circle cx="223.5" cy="514" r="3.5" fill="#00BFC4"/>
<circle cx="200.2" cy="515.3" r="3.5" fill="#00BFC4"/>
<circle cx="308" cy="447.3" r="3.5" fill="#00BFC4"/>
<circle cx="286.3" cy="473.2" r="3.5" fill="#00BFC4"/>
<circle cx="239.3" cy="490.3" r="3.5" fill="#00BFC4"/>
<circle cx="269" cy="490.2" r="3.5" fill="#00BFC4"/>
<circle cx="263.5" cy="492.3" r="3.5" fill="#00BFC4"/>
<circle cx="258" cy="495.3" r="3.5" fill="#00BFC4"/>
<circle cx="243.5" cy="499.8" r="3.5" fill="#00BFC4"/>
<circle cx="240.7" cy="518.7" r="3.5" fill="#00BFC4"/>
<circle cx="240.2" cy="527.7" r="3.5" fill="#00BFC4"/>
<circle cx="236" cy="540.3" r="3.5" fill="#00BFC4"/>
<circle cx="259.7" cy="561" r="3.5" fill="#00BFC4"/>
<circle cx="231.8" cy="519.8" r="3.5" fill="#00BFC4"/>
<circle cx="190.2" cy="521" r="3.5" fill="#00BFC4"/>
<circle cx="184.3" cy="525.7" r="3.5" fill="#00BFC4"/>
<circle cx="179.7" cy="529.8" r="3.5" fill="#00BFC4"/>
<circle cx="202.7" cy="525.3" r="3.5" fill="#00BFC4"/>
<circle cx="209.8" cy="528.7" r="3.5" fill="#00BFC4"/>
<circle cx="208.5" cy="534.3" r="3.5" fill="#00BFC4"/>
<circle cx="218.5" cy="525.2" r="3.5" fill="#00BFC4"/>
<circle cx="229.7" cy="527" r="3.5" fill="#00BFC4"/>
<circle cx="230.2" cy="539" r="3.5" fill="#00BFC4"/>
<circle cx="194.7" cy="543.5" r="3.5" fill="#00BFC4"/>
<circle cx="210.7" cy="550.7" r="3.5" fill="#00BFC4"/>
<circle cx="181" cy="552" r="3.5" fill="#00BFC4"/>
<circle cx="175.7" cy="554.3" r="3.5" fill="#00BFC4"/>
<circle cx="174" cy="557" r="3.5" fill="#00BFC4"/>
<circle cx="203" cy="561.5" r="3.5" fill="#00BFC4"/>
<circle cx="179.3" cy="567" r="3.5" fill="#00BFC4"/>
<circle cx="216" cy="567.7" r="3.5" fill="#00BFC4"/>
<circle cx="198.2" cy="570.3" r="3.5" fill="#00BFC4"/>
<circle cx="161.3" cy="572.3" r="3.5" fill="#00BFC4"/>
<circle cx="196.5" cy="578.3" r="3.5" fill="#00BFC4"/>
<circle cx="166" cy="579.5" r="3.5" fill="#00BFC4"/>
<circle cx="158.8" cy="581.2" r="3.5" fill="#00BFC4"/>
<circle cx="148.2" cy="581" r="3.5" fill="#00BFC4"/>
<circle cx="231.3" cy="595.8" r="3.5" fill="#00BFC4"/>
<circle cx="204" cy="597.3" r="3.5" fill="#00BFC4"/>
<circle cx="159.3" cy="601.5" r="3.5" fill="#00BFC4"/>
<circle cx="168.5" cy="607" r="3.5" fill="#00BFC4"/>
<circle cx="169.7" cy="612" r="3.5" fill="#00BFC4"/>
<circle cx="208.5" cy="613.7" r="3.5" fill="#00BFC4"/>
<circle cx="191.3" cy="618" r="3.5" fill="#00BFC4"/>
<circle cx="208" cy="620" r="3.5" fill="#00BFC4"/>
<circle cx="137.7" cy="631.2" r="3.5" fill="#00BFC4"/>
<circle cx="114.3" cy="449.3" r="3.5" fill="#F8766D"/>
<circle cx="110.2" cy="457.3" r="3.5" fill="#F8766D"/>
<circle cx="115.2" cy="455.7" r="3.5" fill="#F8766D"/>
<circle cx="115.7" cy="463.7" r="3.5" fill="#F8766D"/>
<circle cx="108.2" cy="467" r="3.5" fill="#F8766D"/>
<circle cx="114.7" cy="478.2" r="3.5" fill="#F8766D"/>
<circle cx="108.8" cy="481" r="3.5" fill="#F8766D"/>
<circle cx="83.8" cy="478.7" r="3.5" fill="#F8766D"/>
<circle cx="83.2" cy="489.7" r="3.5" fill="#F8766D"/>
<circle cx="99.3" cy="501.2" r="3.5" fill="#F8766D"/>
<circle cx="104.8" cy="513.7" r="3.5" fill="#F8766D"/>
<circle cx="161.8" cy="419.8" r="3.5" fill="#F8766D"/>
<circle cx="169" cy="446.5" r="3.5" fill="#F8766D"/>
<circle cx="147.3" cy="449.3" r="3.5" fill="#F8766D"/>
<circle cx="136.3" cy="453.5" r="3.5" fill="#F8766D"/>
<circle cx="133" cy="459.8" r="3.5" fill="#F8766D"/>
<circle cx="153.5" cy="462.3" r="3.5" fill="#F8766D"/>
<circle cx="167.2" cy="464.8" r="3.5" fill="#F8766D"/>
<circle cx="132.2" cy="468.2" r="3.5" fill="#F8766D"/>
<circle cx="134.3" cy="474" r="3.5" fill="#F8766D"/>
<circle cx="131" cy="482.3" r="3.5" fill="#F8766D"/>
<circle cx="164" cy="480.3" r="3.5" fill="#F8766D"/>
<circle cx="149" cy="487.8" r="3.5" fill="#F8766D"/>
<circle cx="166.8" cy="494.3" r="3.5" fill="#F8766D"/>
<circle cx="170.7" cy="503.5" r="3.5" fill="#F8766D"/>
<circle cx="146" cy="507.3" r="3.5" fill="#F8766D"/>
<circle cx="137.7" cy="512.7" r="3.5" fill="#F8766D"/>
<circle cx="158.8" cy="514" r="3.5" fill="#F8766D"/>
<circle cx="185.2" cy="509.5" r="3.5" fill="#F8766D"/>
<circle cx="211.5" cy="447.3" r="3.5" fill="#F8766D"/>
<circle cx="203" cy="474.8" r="3.5" fill="#F8766D"/>
<circle cx="226" cy="486" r="3.5" fill="#F8766D"/>
<circle cx="108.8" cy="523.7" r="3.5" fill="#F8766D"/>
<circle cx="132.3" cy="536.2" r="3.5" fill="#F8766D"/>
<circle cx="121.5" cy="550.7" r="3.5" fill="#F8766D"/>
<circle cx="101.8" cy="557.7" r="3.5" fill="#F8766D"/>
<circle cx="98.8" cy="558.7" r="3.5" fill="#F8766D"/>
<circle cx="92.2" cy="562" r="3.5" fill="#F8766D"/>
<circle cx="81.5" cy="568.2" r="3.5" fill="#F8766D"/>
<circle cx="39.7" cy="566.2" r="3.5" fill="#F8766D"/>
<circle cx="176.3" cy="518.7" r="3.5" fill="#F8766D"/>
<circle cx="187.7" cy="521.5" r="3.5" fill="#F8766D"/>
<circle cx="161" cy="528.7" r="3.5" fill="#F8766D"/>
<circle cx="160.5" cy="531.5" r="3.5" fill="#F8766D"/>
<circle cx="151" cy="534.8" r="3.5" fill="#F8766D"/>
<circle cx="134.7" cy="553.7" r="3.5" fill="#F8766D"/>
<circle cx="172.7" cy="565.2" r="3.5" fill="#F8766D"/>
<circle cx="151.5" cy="585.3" r="3.5" fill="#F8766D"/>
</g>
<clipPath id="cr"><rect x="360" y="409.7" width="294.9" height="232.09999999999997"/></clipPath>
<rect x="360" y="409.7" width="294.9" height="232.09999999999997" fill="#EBEBEB"/>
<line x1="376.7" y1="409.7" x2="376.7" y2="641.8" stroke="#F8F8F8" stroke-width="0.8"/>
<line x1="441.7" y1="409.7" x2="441.7" y2="641.8" stroke="#F8F8F8" stroke-width="0.8"/>
<line x1="507.5" y1="409.7" x2="507.5" y2="641.8" stroke="#F8F8F8" stroke-width="0.8"/>
<line x1="573.5" y1="409.7" x2="573.5" y2="641.8" stroke="#F8F8F8" stroke-width="0.8"/>
<line x1="639.5" y1="409.7" x2="639.5" y2="641.8" stroke="#F8F8F8" stroke-width="0.8"/>
<line x1="360" y1="422.2" x2="654.9" y2="422.2" stroke="#F8F8F8" stroke-width="0.8"/>
<line x1="360" y1="470.5" x2="654.9" y2="470.5" stroke="#F8F8F8" stroke-width="0.8"/>
<line x1="360" y1="518.4" x2="654.9" y2="518.4" stroke="#F8F8F8" stroke-width="0.8"/>
<line x1="360" y1="566.3" x2="654.9" y2="566.3" stroke="#F8F8F8" stroke-width="0.8"/>
<line x1="360" y1="614.5" x2="654.9" y2="614.5" stroke="#F8F8F8" stroke-width="0.8"/>
<line x1="408.7" y1="409.7" x2="408.7" y2="641.8" stroke="#FFFFFF" stroke-width="0.95"/>
<line x1="474.6" y1="409.7" x2="474.6" y2="641.8" stroke="#FFFFFF" stroke-width="0.95"/>
<line x1="540.5" y1="409.7" x2="540.5" y2="641.8" stroke="#FFFFFF" stroke-width="0.95"/>
<line x1="606.4" y1="409.7" x2="606.4" y2="641.8" stroke="#FFFFFF" stroke-width="0.95"/>
<line x1="360" y1="446.3" x2="654.9" y2="446.3" stroke="#FFFFFF" stroke-width="0.95"/>
<line x1="360" y1="494.5" x2="654.9" y2="494.5" stroke="#FFFFFF" stroke-width="0.95"/>
<line x1="360" y1="542.3" x2="654.9" y2="542.3" stroke="#FFFFFF" stroke-width="0.95"/>
<line x1="360" y1="590.2" x2="654.9" y2="590.2" stroke="#FFFFFF" stroke-width="0.95"/>
<line x1="360" y1="638.5" x2="654.9" y2="638.5" stroke="#FFFFFF" stroke-width="0.95"/>
<line x1="540.5" y1="409.7" x2="540.5" y2="641.8" stroke="#A8A8A8" stroke-width="0.9"/>
<line x1="360" y1="542.3" x2="654.9" y2="542.3" stroke="#A8A8A8" stroke-width="0.9"/>
<line x1="408.7" y1="641.8" x2="408.7" y2="643.8" stroke="#333" stroke-width="0.8"/>
<line x1="474.6" y1="641.8" x2="474.6" y2="643.8" stroke="#333" stroke-width="0.8"/>
<line x1="540.5" y1="641.8" x2="540.5" y2="643.8" stroke="#333" stroke-width="0.8"/>
<line x1="606.4" y1="641.8" x2="606.4" y2="643.8" stroke="#333" stroke-width="0.8"/>
<line x1="357.5" y1="446.3" x2="360" y2="446.3" stroke="#333" stroke-width="0.8"/>
<line x1="357.5" y1="494.5" x2="360" y2="494.5" stroke="#333" stroke-width="0.8"/>
<line x1="357.5" y1="542.3" x2="360" y2="542.3" stroke="#333" stroke-width="0.8"/>
<line x1="357.5" y1="590.2" x2="360" y2="590.2" stroke="#333" stroke-width="0.8"/>
<line x1="357.5" y1="638.5" x2="360" y2="638.5" stroke="#333" stroke-width="0.8"/>
<g clip-path="url(#cr)">
<circle cx="400.8" cy="459.2" r="3.5" fill="#F8766D"/>
<circle cx="373" cy="489.7" r="3.5" fill="#F8766D"/>
<circle cx="510" cy="419.7" r="3.5" fill="#F8766D"/>
<circle cx="586.9" cy="507.2" r="3.5" fill="#F8766D"/>
<circle cx="585.1" cy="512.3" r="3.5" fill="#F8766D"/>
<circle cx="598.2" cy="505.9" r="3.5" fill="#F8766D"/>
<circle cx="635.8" cy="505.9" r="3.5" fill="#F8766D"/>
<circle cx="456.8" cy="540.3" r="3.5" fill="#F8766D"/>
<circle cx="492.8" cy="532.2" r="3.5" fill="#F8766D"/>
<circle cx="500.7" cy="530.6" r="3.5" fill="#F8766D"/>
<circle cx="512.4" cy="547.2" r="3.5" fill="#F8766D"/>
<circle cx="462.1" cy="560.3" r="3.5" fill="#F8766D"/>
<circle cx="502.1" cy="561.5" r="3.5" fill="#F8766D"/>
<circle cx="487.2" cy="567.2" r="3.5" fill="#F8766D"/>
<circle cx="480.7" cy="574.2" r="3.5" fill="#F8766D"/>
<circle cx="508.8" cy="568.5" r="3.5" fill="#F8766D"/>
<circle cx="499.7" cy="575.2" r="3.5" fill="#F8766D"/>
<circle cx="523.3" cy="557.9" r="3.5" fill="#F8766D"/>
<circle cx="520.9" cy="565.8" r="3.5" fill="#F8766D"/>
<circle cx="527.6" cy="563.3" r="3.5" fill="#F8766D"/>
<circle cx="509.4" cy="579.1" r="3.5" fill="#F8766D"/>
<circle cx="517.3" cy="584.5" r="3.5" fill="#F8766D"/>
<circle cx="530.3" cy="524.2" r="3.5" fill="#F8766D"/>
<circle cx="532.1" cy="529.1" r="3.5" fill="#F8766D"/>
<circle cx="532.1" cy="532.7" r="3.5" fill="#F8766D"/>
<circle cx="572.1" cy="523.9" r="3.5" fill="#F8766D"/>
<circle cx="561.2" cy="530.3" r="3.5" fill="#F8766D"/>
<circle cx="577.6" cy="531.5" r="3.5" fill="#F8766D"/>
<circle cx="578.8" cy="535.2" r="3.5" fill="#F8766D"/>
<circle cx="591.5" cy="524.8" r="3.5" fill="#F8766D"/>
<circle cx="587.3" cy="532.5" r="3.5" fill="#F8766D"/>
<circle cx="578.2" cy="543.6" r="3.5" fill="#F8766D"/>
<circle cx="542.4" cy="547.3" r="3.5" fill="#F8766D"/>
<circle cx="551.5" cy="555.8" r="3.5" fill="#F8766D"/>
<circle cx="548.5" cy="560.6" r="3.5" fill="#F8766D"/>
<circle cx="576.4" cy="559.2" r="3.5" fill="#F8766D"/>
<circle cx="586" cy="556.4" r="3.5" fill="#F8766D"/>
<circle cx="586" cy="561.2" r="3.5" fill="#F8766D"/>
<circle cx="544.2" cy="567.3" r="3.5" fill="#F8766D"/>
<circle cx="555.2" cy="570.9" r="3.5" fill="#F8766D"/>
<circle cx="566.7" cy="567.9" r="3.5" fill="#F8766D"/>
<circle cx="530.9" cy="571.5" r="3.5" fill="#F8766D"/>
<circle cx="534.5" cy="573.3" r="3.5" fill="#F8766D"/>
<circle cx="562.4" cy="576.4" r="3.5" fill="#F8766D"/>
<circle cx="601.6" cy="531.8" r="3.5" fill="#F8766D"/>
<circle cx="633.7" cy="564" r="3.5" fill="#F8766D"/>
<circle cx="498.9" cy="601.5" r="3.5" fill="#F8766D"/>
<circle cx="503" cy="631.4" r="3.5" fill="#F8766D"/>
<circle cx="547.7" cy="584.4" r="3.5" fill="#F8766D"/>
<circle cx="521.8" cy="566" r="3.5" fill="#F8766D"/>
<circle cx="402.2" cy="445.8" r="3.5" fill="#00BFC4"/>
<circle cx="431.5" cy="477.8" r="3.5" fill="#00BFC4"/>
<circle cx="452.8" cy="430" r="3.5" fill="#00BFC4"/>
<circle cx="522.5" cy="505.8" r="3.5" fill="#00BFC4"/>
<circle cx="595.1" cy="468.1" r="3.5" fill="#00BFC4"/>
<circle cx="621.5" cy="480.1" r="3.5" fill="#00BFC4"/>
<circle cx="571.3" cy="507.7" r="3.5" fill="#00BFC4"/>
<circle cx="583.6" cy="508.6" r="3.5" fill="#00BFC4"/>
<circle cx="586.9" cy="510.1" r="3.5" fill="#00BFC4"/>
<circle cx="635.1" cy="517.7" r="3.5" fill="#00BFC4"/>
<circle cx="621.5" cy="519.2" r="3.5" fill="#00BFC4"/>
<circle cx="600.4" cy="520.5" r="3.5" fill="#00BFC4"/>
<circle cx="424.1" cy="519.8" r="3.5" fill="#00BFC4"/>
<circle cx="436.5" cy="524.8" r="3.5" fill="#00BFC4"/>
<circle cx="456.2" cy="589.5" r="3.5" fill="#00BFC4"/>
<circle cx="471" cy="532.2" r="3.5" fill="#00BFC4"/>
<circle cx="493" cy="537.3" r="3.5" fill="#00BFC4"/>
<circle cx="504.5" cy="541.5" r="3.5" fill="#00BFC4"/>
<circle cx="512.4" cy="535.2" r="3.5" fill="#00BFC4"/>
<circle cx="471.8" cy="563.3" r="3.5" fill="#00BFC4"/>
<circle cx="489.8" cy="555.8" r="3.5" fill="#00BFC4"/>
<circle cx="515.5" cy="555.5" r="3.5" fill="#00BFC4"/>
<circle cx="514.2" cy="560.9" r="3.5" fill="#00BFC4"/>
<circle cx="521.5" cy="560.9" r="3.5" fill="#00BFC4"/>
<circle cx="485.8" cy="583.9" r="3.5" fill="#00BFC4"/>
<circle cx="505.2" cy="581.5" r="3.5" fill="#00BFC4"/>
<circle cx="508.2" cy="582.7" r="3.5" fill="#00BFC4"/>
<circle cx="514.2" cy="588.8" r="3.5" fill="#00BFC4"/>
<circle cx="527.9" cy="533.3" r="3.5" fill="#00BFC4"/>
<circle cx="544.2" cy="532.1" r="3.5" fill="#00BFC4"/>
<circle cx="563.6" cy="525.5" r="3.5" fill="#00BFC4"/>
<circle cx="566.1" cy="533.3" r="3.5" fill="#00BFC4"/>
<circle cx="573.3" cy="532.7" r="3.5" fill="#00BFC4"/>
<circle cx="591.5" cy="532.5" r="3.5" fill="#00BFC4"/>
<circle cx="595.2" cy="537.6" r="3.5" fill="#00BFC4"/>
<circle cx="532.1" cy="541.8" r="3.5" fill="#00BFC4"/>
<circle cx="531.2" cy="548.1" r="3.5" fill="#00BFC4"/>
<circle cx="546.1" cy="544.8" r="3.5" fill="#00BFC4"/>
<circle cx="536.4" cy="554.8" r="3.5" fill="#00BFC4"/>
<circle cx="555.2" cy="551.5" r="3.5" fill="#00BFC4"/>
<circle cx="556.4" cy="562.4" r="3.5" fill="#00BFC4"/>
<circle cx="570.3" cy="557.6" r="3.5" fill="#00BFC4"/>
<circle cx="566.7" cy="562.4" r="3.5" fill="#00BFC4"/>
<circle cx="539.4" cy="575.8" r="3.5" fill="#00BFC4"/>
<circle cx="547.3" cy="577" r="3.5" fill="#00BFC4"/>
<circle cx="641.6" cy="526.4" r="3.5" fill="#00BFC4"/>
<circle cx="620" cy="539.8" r="3.5" fill="#00BFC4"/>
<circle cx="619.4" cy="548.7" r="3.5" fill="#00BFC4"/>
<circle cx="599.8" cy="547.9" r="3.5" fill="#00BFC4"/>
<circle cx="597.6" cy="552.1" r="3.5" fill="#00BFC4"/>
<circle cx="595.2" cy="554.5" r="3.5" fill="#00BFC4"/>
<circle cx="599.4" cy="555.8" r="3.5" fill="#00BFC4"/>
<circle cx="605.2" cy="568.1" r="3.5" fill="#00BFC4"/>
<circle cx="523.5" cy="596.2" r="3.5" fill="#00BFC4"/>
<circle cx="611.8" cy="591.8" r="3.5" fill="#00BFC4"/>
<circle cx="411.1" cy="624.3" r="3.5" fill="#00BFC4"/>
<circle cx="530.3" cy="524.2" r="3.5" fill="#F8766D"/>
<circle cx="532.1" cy="529.1" r="3.5" fill="#F8766D"/>
<circle cx="532.1" cy="532.7" r="3.5" fill="#F8766D"/>
<circle cx="586.9" cy="507.2" r="3.5" fill="#F8766D"/>
<circle cx="509.4" cy="579.1" r="3.5" fill="#F8766D"/>
</g>
</svg>
<div class="title" style="left:111.5px">Positive mode</div>
<div class="title" style="left:435.5px">Negative mode</div>
<div class="t" style="left:275px;top:43.5px;font-size:6.2px;font-weight:bold;transform:scaleX(0.9);transform-origin:0 0;">class</div>
<div class="t" style="left:600.5px;top:43.5px;font-size:5.2px;font-weight:bold;">class</div>
<div class="rl" style="top:56.90px">4.36_246.1526m/z</div>
<div class="rl" style="top:68.08px">3.83_470.3217m/z</div>
<div class="rl" style="top:79.26px">3.79_301.1177m/z</div>
<div class="rl" style="top:90.44px">0.28_558.8525m/z</div>
<div class="rl" style="top:101.62px">1.75_120.0804m/z</div>
<div class="rl" style="top:112.80px">3.73_421.2396m/z</div>
<div class="rl" style="top:123.98px">0.32_214.0555m/z</div>
<div class="rl" style="top:135.16px">0.28_414.8815m/z</div>
<div class="rl" style="top:146.34px">0.69_230.0988m/z</div>
<div class="rl" style="top:157.52px">1.53_261.1414m/z</div>
<div class="rl" style="top:168.70px">1.70_86.0963m/z</div>
<div class="rl" style="top:179.88px">4.92_688.3449m/z</div>
<div class="rl" style="top:191.06px">0.43_245.0741m/z</div>
<div class="rl" style="top:202.24px">3.26_276.1256m/z</div>
<div class="rl" style="top:213.42px">6.67_240.1339m/z</div>
<div class="rl" style="top:224.60px">0.30_375.0055m/z</div>
<div class="rl" style="top:235.78px">6.62_450.3207m/z</div>
<div class="rl" style="top:246.96px">3.87_601.2653m/z</div>
<div class="rl" style="top:258.14px">0.40_298.0524m/z</div>
<div class="rl" style="top:269.32px">3.89_299.1453m/z</div>
<div class="rl" style="top:280.50px">0.36_562.0576m/z</div>
<div class="rl" style="top:291.68px">3.50_485.3338m/z</div>
<div class="rl" style="top:302.86px">0.84_225.0735m/z</div>
<div class="rl" style="top:314.04px">2.67_398.1835m/z</div>
<div class="rl" style="top:325.22px">0.32_856.6747m/z</div>
<div class="rl" style="top:336.40px">5.19_104.1375m/z</div>
<div class="rl" style="top:347.58px">4.61_245.1413m/z</div>
<div class="rl" style="top:358.76px">0.39_687.4977m/z</div>
<div class="rl" style="top:369.94px">4.03_694.9853m/z</div>
<div class="rl" style="top:381.12px">0.53_450.2122m/z</div>
<div class="rl" style="top:392.30px">2.66_245.1847m/z</div>
<div class="rl" style="top:403.48px">2.94_828.2621m/z</div>
<div class="rr" style="top:56.41px">0.30_886.8077m/z</div>
<div class="rr" style="top:66.42px">5.88_151.0730n</div>
<div class="rr" style="top:76.43px">8.01_136.9670m/z</div>
<div class="rr" style="top:86.44px">7.46_143.0089m/z</div>
<div class="rr" style="top:96.45px">6.94_636.2969n</div>
<div class="rr" style="top:106.46px">2.91_439.1598m/z</div>
<div class="rr" style="top:116.47px">0.35_415.9032n</div>
<div class="rr" style="top:126.49px">0.46_708.9672m/z</div>
<div class="rr" style="top:136.50px">0.48_737.8862m/z</div>
<div class="rr" style="top:146.51px">7.93_206.0787n</div>
<div class="rr" style="top:156.52px">7.26_581.2387m/z</div>
<div class="rr" style="top:166.53px">6.56_161.0454m/z</div>
<div class="rr" style="top:176.54px">0.35_744.9244m/z</div>
<div class="rr" style="top:186.55px">4.42_347.1844m/z</div>
<div class="rr" style="top:196.57px">1.64_260.1360n</div>
<div class="rr" style="top:206.58px">0.32_943.5980n</div>
<div class="rr" style="top:216.59px">7.03_394.3318m/z</div>
<div class="rr" style="top:226.60px">0.99_218.1021m/z</div>
<div class="rr" style="top:236.61px">2.75_317.1128m/z</div>
<div class="rr" style="top:246.62px">3.32_400.2434m/z</div>
<div class="rr" style="top:256.63px">3.20_464.3011m/z</div>
<div class="rr" style="top:266.65px">5.61_682.4272m/z</div>
<div class="rr" style="top:276.66px">0.36_151.0005m/z</div>
<div class="rr" style="top:286.67px">1.36_125.0273m/z</div>
<div class="rr" style="top:296.68px">0.29_243.0097m/z</div>
<div class="rr" style="top:306.69px">3.81_82.0401m/z</div>
<div class="rr" style="top:316.70px">2.31_201.1234m/z</div>
<div class="rr" style="top:326.71px">0.46_597.8106m/z</div>
<div class="rr" style="top:336.73px">1.36_452.1419n</div>
<div class="rr" style="top:346.74px">2.36_453.1899m/z</div>
<div class="rr" style="top:356.75px">0.36_231.9867n</div>
<div class="rr" style="top:366.76px">3.24_584.2636n</div>
<div class="rr" style="top:376.77px">2.86_525.2330m/z</div>
<div class="rr" style="top:386.78px">2.73_497.3329m/z</div>
<div class="rr" style="top:396.79px">3.32_124.7135m/z</div>
<div class="cl" style="left:57.10px">0</div>
<div class="cr" style="left:384.10px">0</div>
<div class="cl" style="left:77.90px">3</div>
<div class="cr" style="left:404.59px">3</div>
<div class="cl" style="left:97.60px">6</div>
<div class="cr" style="left:425.08px">6</div>
<div class="cl" style="left:119.30px">9</div>
<div class="cr" style="left:445.57px">9</div>
<div class="cl" style="left:138.80px">12</div>
<div class="cr" style="left:466.06px">12</div>
<div class="cl" style="left:157.70px">15</div>
<div class="cr" style="left:486.55px">15</div>
<div class="cl" style="left:179.30px">18</div>
<div class="cr" style="left:507.04px">18</div>
<div class="cl" style="left:198.40px">21</div>
<div class="cr" style="left:527.53px">21</div>
<div class="cl" style="left:221.50px">24</div>
<div class="cr" style="left:548.02px">24</div>
<div class="cl" style="left:240.40px">27</div>
<div class="cr" style="left:568.51px">27</div>
<div class="cl" style="left:261.60px">30</div>
<div class="cr" style="left:589.00px">30</div>
<div class="tick" style="left:654.5px;top:50.3px;font-size:5px;">2</div>
<div class="tick" style="left:654.5px;top:68.3px;font-size:5px;">1</div>
<div class="tick" style="left:654.5px;top:86.5px;font-size:5px;">0</div>
<div class="tick" style="left:653px;top:104.5px;font-size:5px;">-1</div>
<div class="tick" style="left:653px;top:123px;font-size:5px;">-2</div>

<div class="day" style="left:26.8px;top:424.7px;color:#F8766D;transform:scaleX(1.14)">Day 0 - 12</div>
<div class="day" style="left:241.8px;top:618.8px;color:#00BFC4;transform:scaleX(1.17)">Day 15 - 30</div>

<div class="tick" style="right:636.5px;top:457px;">2.5</div>
<div class="tick" style="right:636.5px;top:521px;">0.0</div>
<div class="tick" style="right:636.5px;top:584px;">-2.5</div>
<div class="tick" style="left:34.3px;top:646px;transform:translateX(-50%)">-6</div>
<div class="tick" style="left:105.5px;top:646px;transform:translateX(-50%)">-3</div>
<div class="tick" style="left:177.2px;top:646px;transform:translateX(-50%)">0</div>
<div class="tick" style="left:248.5px;top:646px;transform:translateX(-50%)">3</div>
<div class="tick" style="left:319.7px;top:646px;transform:translateX(-50%)">6</div>
<div class="ax" style="left:166.3px;top:654.8px;transform:scaleX(0.92);transform-origin:0 0;">PC1&nbsp; 14.18%</div>
<div class="ax" style="left:6px;top:509px;transform:translate(-50%,-50%) rotate(-90deg);">PC2&nbsp; 10.77%</div>

<div class="tick" style="right:304px;top:444.5px;">5.0</div>
<div class="tick" style="right:304px;top:493px;">2.5</div>
<div class="tick" style="right:304px;top:541px;">0.0</div>
<div class="tick" style="right:304px;top:589px;">-2.5</div>
<div class="tick" style="right:304px;top:637px;">-5.0</div>
<div class="tick" style="left:408.7px;top:646px;transform:translateX(-50%)">-5.0</div>
<div class="tick" style="left:474.6px;top:646px;transform:translateX(-50%)">-2.5</div>
<div class="tick" style="left:540.5px;top:646px;transform:translateX(-50%)">0.0</div>
<div class="tick" style="left:606.4px;top:646px;transform:translateX(-50%)">2.5</div>
<div class="ax" style="left:500px;top:654.3px;transform:scaleX(0.92);transform-origin:0 0;">PC1&nbsp; 14.95%</div>
<div class="ax" style="left:340.2px;top:509px;transform:translate(-50%,-50%) rotate(-90deg);">PC2&nbsp; 11.11%</div>
</body></html>
